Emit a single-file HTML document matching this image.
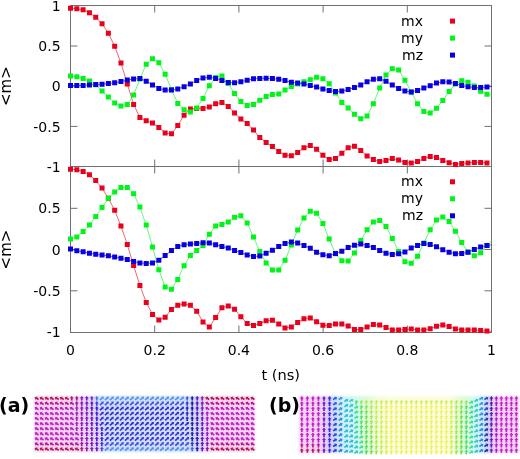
<!DOCTYPE html>
<html><head><meta charset="utf-8"><style>
html,body{margin:0;padding:0;background:#fff;}
body{width:520px;height:459px;overflow:hidden;}
svg{display:block;}
text{font-family:'DejaVu Sans', 'Liberation Sans', sans-serif;font-size:14px;fill:#000;}
</style></head><body>
<svg width="520" height="459" viewBox="0 0 520 459">
<defs><filter id="bl" x="-5%" y="-20%" width="110%" height="140%"><feGaussianBlur stdDeviation="0.45"/></filter><filter id="bl2" x="-5%" y="-20%" width="110%" height="140%"><feGaussianBlur stdDeviation="1.2"/></filter></defs>
<rect x="70.5" y="5.5" width="421" height="161.0" fill="none" stroke="#707070" stroke-width="1"/>
<line x1="70.5" y1="46.0" x2="77.5" y2="46.0" stroke="#707070"/>
<line x1="491.5" y1="46.0" x2="484.5" y2="46.0" stroke="#707070"/>
<line x1="70.5" y1="86.1" x2="77.5" y2="86.1" stroke="#707070"/>
<line x1="491.5" y1="86.1" x2="484.5" y2="86.1" stroke="#707070"/>
<line x1="70.5" y1="126.4" x2="77.5" y2="126.4" stroke="#707070"/>
<line x1="491.5" y1="126.4" x2="484.5" y2="126.4" stroke="#707070"/>
<line x1="154.7" y1="5.5" x2="154.7" y2="12.5" stroke="#707070"/>
<line x1="154.7" y1="166.5" x2="154.7" y2="159.5" stroke="#707070"/>
<line x1="238.9" y1="5.5" x2="238.9" y2="12.5" stroke="#707070"/>
<line x1="238.9" y1="166.5" x2="238.9" y2="159.5" stroke="#707070"/>
<line x1="323.1" y1="5.5" x2="323.1" y2="12.5" stroke="#707070"/>
<line x1="323.1" y1="166.5" x2="323.1" y2="159.5" stroke="#707070"/>
<line x1="407.3" y1="5.5" x2="407.3" y2="12.5" stroke="#707070"/>
<line x1="407.3" y1="166.5" x2="407.3" y2="159.5" stroke="#707070"/>
<rect x="70.5" y="166.5" width="421" height="166.0" fill="none" stroke="#707070" stroke-width="1"/>
<line x1="70.5" y1="208.3" x2="77.5" y2="208.3" stroke="#707070"/>
<line x1="491.5" y1="208.3" x2="484.5" y2="208.3" stroke="#707070"/>
<line x1="70.5" y1="249.5" x2="77.5" y2="249.5" stroke="#707070"/>
<line x1="491.5" y1="249.5" x2="484.5" y2="249.5" stroke="#707070"/>
<line x1="70.5" y1="290.8" x2="77.5" y2="290.8" stroke="#707070"/>
<line x1="491.5" y1="290.8" x2="484.5" y2="290.8" stroke="#707070"/>
<line x1="154.7" y1="166.5" x2="154.7" y2="173.5" stroke="#707070"/>
<line x1="154.7" y1="332.5" x2="154.7" y2="325.5" stroke="#707070"/>
<line x1="238.9" y1="166.5" x2="238.9" y2="173.5" stroke="#707070"/>
<line x1="238.9" y1="332.5" x2="238.9" y2="325.5" stroke="#707070"/>
<line x1="323.1" y1="166.5" x2="323.1" y2="173.5" stroke="#707070"/>
<line x1="323.1" y1="332.5" x2="323.1" y2="325.5" stroke="#707070"/>
<line x1="407.3" y1="166.5" x2="407.3" y2="173.5" stroke="#707070"/>
<line x1="407.3" y1="332.5" x2="407.3" y2="325.5" stroke="#707070"/>
<defs><clipPath id="ct"><rect x="70" y="5" width="422" height="162"/></clipPath><clipPath id="cb"><rect x="70" y="166" width="422" height="167"/></clipPath></defs>
<polyline points="70.50,8.2 76.81,8.8 83.12,9.8 89.43,12.7 95.74,17.3 102.05,23.7 108.36,33.3 114.67,46.3 120.98,62.9 127.29,83.9 133.60,104.4 139.91,117.6 146.22,120.7 152.53,123.1 158.84,127.6 165.15,132.9 171.46,133.8 177.77,125.6 184.08,115.2 190.39,108.9 196.70,108.4 203.01,108.4 209.32,107.0 215.63,103.8 221.94,102.5 228.25,106.4 234.56,112.9 240.87,119.1 247.18,123.6 253.49,130.0 259.80,137.5 266.11,142.5 272.42,146.5 278.73,151.4 285.04,155.3 291.35,155.7 297.66,152.4 303.97,147.8 310.28,145.5 316.59,149.2 322.90,155.3 329.21,159.6 335.52,158.6 341.83,153.3 348.14,147.8 354.45,146.3 360.76,150.4 367.07,156.1 373.38,159.6 379.69,161.6 386.00,160.6 392.31,158.6 398.62,160.0 404.93,162.5 411.24,162.9 417.55,161.6 423.86,158.6 430.17,156.5 436.48,157.6 442.79,160.4 449.10,162.7 455.41,164.5 461.72,163.5 468.03,162.9 474.34,162.4 480.65,162.4 486.96,162.9" fill="none" stroke="#e8001c" stroke-width="1" stroke-opacity="0.6" clip-path="url(#ct)"/>
<polyline points="70.50,76.0 76.81,76.8 83.12,78.4 89.43,81.0 95.74,84.8 102.05,91.1 108.36,97.0 114.67,102.9 120.98,106.0 127.29,104.4 133.60,95.0 139.91,79.0 146.22,64.3 152.53,58.8 158.84,62.7 165.15,74.3 171.46,89.5 177.77,103.5 184.08,109.7 190.39,111.9 196.70,108.0 203.01,98.5 209.32,85.7 215.63,77.6 221.94,76.0 228.25,83.5 234.56,93.6 240.87,101.5 247.18,105.4 253.49,104.5 259.80,100.2 266.11,96.5 272.42,94.5 278.73,93.9 285.04,90.0 291.35,86.5 297.66,84.1 303.97,81.8 310.28,79.8 316.59,77.3 322.90,78.8 329.21,83.7 335.52,92.9 341.83,102.4 348.14,107.9 354.45,114.3 360.76,118.8 367.07,116.1 373.38,103.7 379.69,88.0 386.00,74.9 392.31,68.8 398.62,70.0 404.93,80.2 411.24,92.0 417.55,103.7 423.86,111.6 430.17,112.9 436.48,108.2 442.79,100.6 449.10,91.4 455.41,84.0 461.72,80.8 468.03,82.2 474.34,86.1 480.65,91.2 486.96,94.3 493.27,95.5" fill="none" stroke="#00f41a" stroke-width="1" stroke-opacity="0.6" clip-path="url(#ct)"/>
<polyline points="70.50,85.6 76.81,85.6 83.12,85.4 89.43,85.0 95.74,84.6 102.05,84.2 108.36,83.5 114.67,82.8 120.98,81.6 127.29,80.0 133.60,79.0 139.91,78.5 146.22,81.2 152.53,84.9 158.84,88.5 165.15,90.0 171.46,90.0 177.77,88.9 184.08,86.7 190.39,83.9 196.70,80.5 203.01,78.1 209.32,77.2 215.63,78.4 221.94,80.4 228.25,82.5 234.56,82.7 240.87,81.8 247.18,80.3 253.49,78.8 259.80,78.4 266.11,78.2 272.42,78.6 278.73,79.2 285.04,80.6 291.35,82.2 297.66,83.1 303.97,84.1 310.28,85.5 316.59,87.1 322.90,89.0 329.21,90.6 335.52,91.6 341.83,91.0 348.14,89.5 354.45,87.5 360.76,85.1 367.07,81.8 373.38,79.2 379.69,78.8 386.00,81.2 392.31,85.1 398.62,88.6 404.93,91.0 411.24,92.0 417.55,90.4 423.86,88.0 430.17,85.7 436.48,83.1 442.79,81.8 449.10,82.0 455.41,83.5 461.72,85.5 468.03,86.7 474.34,87.6 480.65,87.6 486.96,87.1 493.27,86.2" fill="none" stroke="#0800e0" stroke-width="1" stroke-opacity="0.6" clip-path="url(#ct)"/>
<polyline points="70.50,169.3 76.81,169.8 83.12,171.4 89.43,174.7 95.74,180.6 102.05,188.1 108.36,198.3 114.67,210.2 120.98,226.1 127.29,244.4 133.60,265.5 139.91,285.5 146.22,302.4 152.53,314.5 158.84,320.0 165.15,317.3 171.46,309.4 177.77,305.3 184.08,303.9 190.39,305.3 196.70,311.2 203.01,322.0 209.32,327.1 215.63,317.6 221.94,307.8 228.25,305.9 234.56,309.2 240.87,316.7 247.18,323.5 253.49,325.5 259.80,323.5 266.11,320.7 272.42,320.3 278.73,324.0 285.04,327.9 291.35,327.0 297.66,322.6 303.97,318.7 310.28,318.1 316.59,321.7 322.90,325.2 329.21,325.6 335.52,324.0 341.83,324.0 348.14,326.0 354.45,329.5 360.76,329.5 367.07,327.0 373.38,324.6 379.69,325.0 386.00,327.5 392.31,329.9 398.62,330.1 404.93,329.5 411.24,329.1 417.55,329.9 423.86,330.1 430.17,328.7 436.48,326.2 442.79,325.0 449.10,326.6 455.41,328.9 461.72,329.9 468.03,329.9 474.34,329.9 480.65,330.5 486.96,331.1 493.27,331.5" fill="none" stroke="#e8001c" stroke-width="1" stroke-opacity="0.6" clip-path="url(#cb)"/>
<polyline points="70.50,238.9 76.81,236.9 83.12,231.6 89.43,225.1 95.74,216.5 102.05,207.5 108.36,198.3 114.67,192.0 120.98,187.5 127.29,187.5 133.60,193.8 139.91,207.1 146.22,225.1 152.53,246.9 158.84,269.7 165.15,286.9 171.46,289.2 177.77,279.4 184.08,265.7 190.39,255.5 196.70,250.4 203.01,245.5 209.32,234.3 215.63,226.1 221.94,224.5 228.25,222.0 234.56,217.3 240.87,215.7 247.18,223.1 253.49,237.0 259.80,251.5 266.11,263.0 272.42,269.9 278.73,269.9 285.04,260.3 291.35,245.0 297.66,229.9 303.97,218.1 310.28,211.3 316.59,213.2 322.90,223.4 329.21,239.1 335.52,253.8 341.83,260.7 348.14,261.1 354.45,253.0 360.76,240.5 367.07,229.7 373.38,221.9 379.69,220.5 386.00,226.4 392.31,238.5 398.62,251.5 404.93,261.7 411.24,263.2 417.55,256.2 423.86,243.0 430.17,229.7 436.48,220.0 442.79,217.1 449.10,221.5 455.41,231.3 461.72,242.6 468.03,252.0 474.34,255.8 480.65,252.8 486.96,245.6 493.27,239.0" fill="none" stroke="#00f41a" stroke-width="1" stroke-opacity="0.6" clip-path="url(#cb)"/>
<polyline points="70.50,249.0 76.81,250.7 83.12,251.8 89.43,253.3 95.74,254.3 102.05,255.1 108.36,255.7 114.67,257.1 120.98,258.2 127.29,259.6 133.60,261.6 139.91,262.9 146.22,263.5 152.53,262.9 158.84,260.2 165.15,255.6 171.46,250.6 177.77,246.5 184.08,244.7 190.39,244.1 196.70,243.5 203.01,242.7 209.32,243.1 215.63,244.7 221.94,246.5 228.25,248.0 234.56,250.4 240.87,252.5 247.18,254.9 253.49,256.5 259.80,256.0 266.11,253.2 272.42,250.3 278.73,246.6 285.04,243.4 291.35,242.1 297.66,243.0 303.97,245.4 310.28,248.3 316.59,252.3 322.90,254.8 329.21,255.8 335.52,253.4 341.83,251.3 348.14,247.5 354.45,245.2 360.76,244.0 367.07,245.4 373.38,247.5 379.69,250.5 386.00,253.2 392.31,254.4 398.62,253.8 404.93,251.9 411.24,247.9 417.55,245.4 423.86,243.5 430.17,244.4 436.48,246.8 442.79,249.7 449.10,252.2 455.41,253.8 461.72,253.4 468.03,252.3 474.34,249.5 480.65,247.0 486.96,245.6 493.27,244.5" fill="none" stroke="#0800e0" stroke-width="1" stroke-opacity="0.6" clip-path="url(#cb)"/>
<path d="M68.00 5.7h5v5h-5zM74.31 6.3h5v5h-5zM80.62 7.3h5v5h-5zM86.93 10.2h5v5h-5zM93.24 14.8h5v5h-5zM99.55 21.2h5v5h-5zM105.86 30.8h5v5h-5zM112.17 43.8h5v5h-5zM118.48 60.4h5v5h-5zM124.79 81.4h5v5h-5zM131.10 101.9h5v5h-5zM137.41 115.1h5v5h-5zM143.72 118.2h5v5h-5zM150.03 120.6h5v5h-5zM156.34 125.1h5v5h-5zM162.65 130.4h5v5h-5zM168.96 131.3h5v5h-5zM175.27 123.1h5v5h-5zM181.58 112.7h5v5h-5zM187.89 106.4h5v5h-5zM194.20 105.9h5v5h-5zM200.51 105.9h5v5h-5zM206.82 104.5h5v5h-5zM213.13 101.3h5v5h-5zM219.44 100.0h5v5h-5zM225.75 103.9h5v5h-5zM232.06 110.4h5v5h-5zM238.37 116.6h5v5h-5zM244.68 121.1h5v5h-5zM250.99 127.5h5v5h-5zM257.30 135.0h5v5h-5zM263.61 140.0h5v5h-5zM269.92 144.0h5v5h-5zM276.23 148.9h5v5h-5zM282.54 152.8h5v5h-5zM288.85 153.2h5v5h-5zM295.16 149.9h5v5h-5zM301.47 145.3h5v5h-5zM307.78 143.0h5v5h-5zM314.09 146.7h5v5h-5zM320.40 152.8h5v5h-5zM326.71 157.1h5v5h-5zM333.02 156.1h5v5h-5zM339.33 150.8h5v5h-5zM345.64 145.3h5v5h-5zM351.95 143.8h5v5h-5zM358.26 147.9h5v5h-5zM364.57 153.6h5v5h-5zM370.88 157.1h5v5h-5zM377.19 159.1h5v5h-5zM383.50 158.1h5v5h-5zM389.81 156.1h5v5h-5zM396.12 157.5h5v5h-5zM402.43 160.0h5v5h-5zM408.74 160.4h5v5h-5zM415.05 159.1h5v5h-5zM421.36 156.1h5v5h-5zM427.67 154.0h5v5h-5zM433.98 155.1h5v5h-5zM440.29 157.9h5v5h-5zM446.60 160.2h5v5h-5zM452.91 162.0h5v5h-5zM459.22 161.0h5v5h-5zM465.53 160.4h5v5h-5zM471.84 159.9h5v5h-5zM478.15 159.9h5v5h-5zM484.46 160.4h5v5h-5z" fill="#e8001c"/>
<path d="M68.00 73.5h5v5h-5zM74.31 74.3h5v5h-5zM80.62 75.9h5v5h-5zM86.93 78.5h5v5h-5zM93.24 82.3h5v5h-5zM99.55 88.6h5v5h-5zM105.86 94.5h5v5h-5zM112.17 100.4h5v5h-5zM118.48 103.5h5v5h-5zM124.79 101.9h5v5h-5zM131.10 92.5h5v5h-5zM137.41 76.5h5v5h-5zM143.72 61.8h5v5h-5zM150.03 56.3h5v5h-5zM156.34 60.2h5v5h-5zM162.65 71.8h5v5h-5zM168.96 87.0h5v5h-5zM175.27 101.0h5v5h-5zM181.58 107.2h5v5h-5zM187.89 109.4h5v5h-5zM194.20 105.5h5v5h-5zM200.51 96.0h5v5h-5zM206.82 83.2h5v5h-5zM213.13 75.1h5v5h-5zM219.44 73.5h5v5h-5zM225.75 81.0h5v5h-5zM232.06 91.1h5v5h-5zM238.37 99.0h5v5h-5zM244.68 102.9h5v5h-5zM250.99 102.0h5v5h-5zM257.30 97.7h5v5h-5zM263.61 94.0h5v5h-5zM269.92 92.0h5v5h-5zM276.23 91.4h5v5h-5zM282.54 87.5h5v5h-5zM288.85 84.0h5v5h-5zM295.16 81.6h5v5h-5zM301.47 79.3h5v5h-5zM307.78 77.3h5v5h-5zM314.09 74.8h5v5h-5zM320.40 76.3h5v5h-5zM326.71 81.2h5v5h-5zM333.02 90.4h5v5h-5zM339.33 99.9h5v5h-5zM345.64 105.4h5v5h-5zM351.95 111.8h5v5h-5zM358.26 116.3h5v5h-5zM364.57 113.6h5v5h-5zM370.88 101.2h5v5h-5zM377.19 85.5h5v5h-5zM383.50 72.4h5v5h-5zM389.81 66.3h5v5h-5zM396.12 67.5h5v5h-5zM402.43 77.7h5v5h-5zM408.74 89.5h5v5h-5zM415.05 101.2h5v5h-5zM421.36 109.1h5v5h-5zM427.67 110.4h5v5h-5zM433.98 105.7h5v5h-5zM440.29 98.1h5v5h-5zM446.60 88.9h5v5h-5zM452.91 81.5h5v5h-5zM459.22 78.3h5v5h-5zM465.53 79.7h5v5h-5zM471.84 83.6h5v5h-5zM478.15 88.7h5v5h-5zM484.46 91.8h5v5h-5z" fill="#00f41a"/>
<path d="M68.00 83.1h5v5h-5zM74.31 83.1h5v5h-5zM80.62 82.9h5v5h-5zM86.93 82.5h5v5h-5zM93.24 82.1h5v5h-5zM99.55 81.7h5v5h-5zM105.86 81.0h5v5h-5zM112.17 80.3h5v5h-5zM118.48 79.1h5v5h-5zM124.79 77.5h5v5h-5zM131.10 76.5h5v5h-5zM137.41 76.0h5v5h-5zM143.72 78.7h5v5h-5zM150.03 82.4h5v5h-5zM156.34 86.0h5v5h-5zM162.65 87.5h5v5h-5zM168.96 87.5h5v5h-5zM175.27 86.4h5v5h-5zM181.58 84.2h5v5h-5zM187.89 81.4h5v5h-5zM194.20 78.0h5v5h-5zM200.51 75.6h5v5h-5zM206.82 74.7h5v5h-5zM213.13 75.9h5v5h-5zM219.44 77.9h5v5h-5zM225.75 80.0h5v5h-5zM232.06 80.2h5v5h-5zM238.37 79.3h5v5h-5zM244.68 77.8h5v5h-5zM250.99 76.3h5v5h-5zM257.30 75.9h5v5h-5zM263.61 75.7h5v5h-5zM269.92 76.1h5v5h-5zM276.23 76.7h5v5h-5zM282.54 78.1h5v5h-5zM288.85 79.7h5v5h-5zM295.16 80.6h5v5h-5zM301.47 81.6h5v5h-5zM307.78 83.0h5v5h-5zM314.09 84.6h5v5h-5zM320.40 86.5h5v5h-5zM326.71 88.1h5v5h-5zM333.02 89.1h5v5h-5zM339.33 88.5h5v5h-5zM345.64 87.0h5v5h-5zM351.95 85.0h5v5h-5zM358.26 82.6h5v5h-5zM364.57 79.3h5v5h-5zM370.88 76.7h5v5h-5zM377.19 76.3h5v5h-5zM383.50 78.7h5v5h-5zM389.81 82.6h5v5h-5zM396.12 86.1h5v5h-5zM402.43 88.5h5v5h-5zM408.74 89.5h5v5h-5zM415.05 87.9h5v5h-5zM421.36 85.5h5v5h-5zM427.67 83.2h5v5h-5zM433.98 80.6h5v5h-5zM440.29 79.3h5v5h-5zM446.60 79.5h5v5h-5zM452.91 81.0h5v5h-5zM459.22 83.0h5v5h-5zM465.53 84.2h5v5h-5zM471.84 85.1h5v5h-5zM478.15 85.1h5v5h-5zM484.46 84.6h5v5h-5z" fill="#0800e0"/>
<path d="M68.00 166.8h5v5h-5zM74.31 167.3h5v5h-5zM80.62 168.9h5v5h-5zM86.93 172.2h5v5h-5zM93.24 178.1h5v5h-5zM99.55 185.6h5v5h-5zM105.86 195.8h5v5h-5zM112.17 207.7h5v5h-5zM118.48 223.6h5v5h-5zM124.79 241.9h5v5h-5zM131.10 263.0h5v5h-5zM137.41 283.0h5v5h-5zM143.72 299.9h5v5h-5zM150.03 312.0h5v5h-5zM156.34 317.5h5v5h-5zM162.65 314.8h5v5h-5zM168.96 306.9h5v5h-5zM175.27 302.8h5v5h-5zM181.58 301.4h5v5h-5zM187.89 302.8h5v5h-5zM194.20 308.7h5v5h-5zM200.51 319.5h5v5h-5zM206.82 324.6h5v5h-5zM213.13 315.1h5v5h-5zM219.44 305.3h5v5h-5zM225.75 303.4h5v5h-5zM232.06 306.7h5v5h-5zM238.37 314.2h5v5h-5zM244.68 321.0h5v5h-5zM250.99 323.0h5v5h-5zM257.30 321.0h5v5h-5zM263.61 318.2h5v5h-5zM269.92 317.8h5v5h-5zM276.23 321.5h5v5h-5zM282.54 325.4h5v5h-5zM288.85 324.5h5v5h-5zM295.16 320.1h5v5h-5zM301.47 316.2h5v5h-5zM307.78 315.6h5v5h-5zM314.09 319.2h5v5h-5zM320.40 322.7h5v5h-5zM326.71 323.1h5v5h-5zM333.02 321.5h5v5h-5zM339.33 321.5h5v5h-5zM345.64 323.5h5v5h-5zM351.95 327.0h5v5h-5zM358.26 327.0h5v5h-5zM364.57 324.5h5v5h-5zM370.88 322.1h5v5h-5zM377.19 322.5h5v5h-5zM383.50 325.0h5v5h-5zM389.81 327.4h5v5h-5zM396.12 327.6h5v5h-5zM402.43 327.0h5v5h-5zM408.74 326.6h5v5h-5zM415.05 327.4h5v5h-5zM421.36 327.6h5v5h-5zM427.67 326.2h5v5h-5zM433.98 323.7h5v5h-5zM440.29 322.5h5v5h-5zM446.60 324.1h5v5h-5zM452.91 326.4h5v5h-5zM459.22 327.4h5v5h-5zM465.53 327.4h5v5h-5zM471.84 327.4h5v5h-5zM478.15 328.0h5v5h-5zM484.46 328.6h5v5h-5z" fill="#e8001c"/>
<path d="M68.00 236.4h5v5h-5zM74.31 234.4h5v5h-5zM80.62 229.1h5v5h-5zM86.93 222.6h5v5h-5zM93.24 214.0h5v5h-5zM99.55 205.0h5v5h-5zM105.86 195.8h5v5h-5zM112.17 189.5h5v5h-5zM118.48 185.0h5v5h-5zM124.79 185.0h5v5h-5zM131.10 191.3h5v5h-5zM137.41 204.6h5v5h-5zM143.72 222.6h5v5h-5zM150.03 244.4h5v5h-5zM156.34 267.2h5v5h-5zM162.65 284.4h5v5h-5zM168.96 286.7h5v5h-5zM175.27 276.9h5v5h-5zM181.58 263.2h5v5h-5zM187.89 253.0h5v5h-5zM194.20 247.9h5v5h-5zM200.51 243.0h5v5h-5zM206.82 231.8h5v5h-5zM213.13 223.6h5v5h-5zM219.44 222.0h5v5h-5zM225.75 219.5h5v5h-5zM232.06 214.8h5v5h-5zM238.37 213.2h5v5h-5zM244.68 220.6h5v5h-5zM250.99 234.5h5v5h-5zM257.30 249.0h5v5h-5zM263.61 260.5h5v5h-5zM269.92 267.4h5v5h-5zM276.23 267.4h5v5h-5zM282.54 257.8h5v5h-5zM288.85 242.5h5v5h-5zM295.16 227.4h5v5h-5zM301.47 215.6h5v5h-5zM307.78 208.8h5v5h-5zM314.09 210.7h5v5h-5zM320.40 220.9h5v5h-5zM326.71 236.6h5v5h-5zM333.02 251.3h5v5h-5zM339.33 258.2h5v5h-5zM345.64 258.6h5v5h-5zM351.95 250.5h5v5h-5zM358.26 238.0h5v5h-5zM364.57 227.2h5v5h-5zM370.88 219.4h5v5h-5zM377.19 218.0h5v5h-5zM383.50 223.9h5v5h-5zM389.81 236.0h5v5h-5zM396.12 249.0h5v5h-5zM402.43 259.2h5v5h-5zM408.74 260.7h5v5h-5zM415.05 253.7h5v5h-5zM421.36 240.5h5v5h-5zM427.67 227.2h5v5h-5zM433.98 217.5h5v5h-5zM440.29 214.6h5v5h-5zM446.60 219.0h5v5h-5zM452.91 228.8h5v5h-5zM459.22 240.1h5v5h-5zM465.53 249.5h5v5h-5zM471.84 253.3h5v5h-5zM478.15 250.3h5v5h-5zM484.46 243.1h5v5h-5z" fill="#00f41a"/>
<path d="M68.00 246.5h5v5h-5zM74.31 248.2h5v5h-5zM80.62 249.3h5v5h-5zM86.93 250.8h5v5h-5zM93.24 251.8h5v5h-5zM99.55 252.6h5v5h-5zM105.86 253.2h5v5h-5zM112.17 254.6h5v5h-5zM118.48 255.7h5v5h-5zM124.79 257.1h5v5h-5zM131.10 259.1h5v5h-5zM137.41 260.4h5v5h-5zM143.72 261.0h5v5h-5zM150.03 260.4h5v5h-5zM156.34 257.7h5v5h-5zM162.65 253.1h5v5h-5zM168.96 248.1h5v5h-5zM175.27 244.0h5v5h-5zM181.58 242.2h5v5h-5zM187.89 241.6h5v5h-5zM194.20 241.0h5v5h-5zM200.51 240.2h5v5h-5zM206.82 240.6h5v5h-5zM213.13 242.2h5v5h-5zM219.44 244.0h5v5h-5zM225.75 245.5h5v5h-5zM232.06 247.9h5v5h-5zM238.37 250.0h5v5h-5zM244.68 252.4h5v5h-5zM250.99 254.0h5v5h-5zM257.30 253.5h5v5h-5zM263.61 250.7h5v5h-5zM269.92 247.8h5v5h-5zM276.23 244.1h5v5h-5zM282.54 240.9h5v5h-5zM288.85 239.6h5v5h-5zM295.16 240.5h5v5h-5zM301.47 242.9h5v5h-5zM307.78 245.8h5v5h-5zM314.09 249.8h5v5h-5zM320.40 252.3h5v5h-5zM326.71 253.3h5v5h-5zM333.02 250.9h5v5h-5zM339.33 248.8h5v5h-5zM345.64 245.0h5v5h-5zM351.95 242.7h5v5h-5zM358.26 241.5h5v5h-5zM364.57 242.9h5v5h-5zM370.88 245.0h5v5h-5zM377.19 248.0h5v5h-5zM383.50 250.7h5v5h-5zM389.81 251.9h5v5h-5zM396.12 251.3h5v5h-5zM402.43 249.4h5v5h-5zM408.74 245.4h5v5h-5zM415.05 242.9h5v5h-5zM421.36 241.0h5v5h-5zM427.67 241.9h5v5h-5zM433.98 244.3h5v5h-5zM440.29 247.2h5v5h-5zM446.60 249.7h5v5h-5zM452.91 251.3h5v5h-5zM459.22 250.9h5v5h-5zM465.53 249.8h5v5h-5zM471.84 247.0h5v5h-5zM478.15 244.5h5v5h-5zM484.46 243.1h5v5h-5z" fill="#0800e0"/>
<text x="423" y="25.7" text-anchor="end">mx</text>
<rect x="450.0" y="18.6" width="5" height="5" fill="#e8001c"/>
<text x="423" y="42.7" text-anchor="end">my</text>
<rect x="450.0" y="35.6" width="5" height="5" fill="#00f41a"/>
<text x="423" y="59.7" text-anchor="end">mz</text>
<rect x="450.0" y="52.6" width="5" height="5" fill="#0800e0"/>
<text x="423" y="186.4" text-anchor="end">mx</text>
<rect x="450.0" y="179.3" width="5" height="5" fill="#e8001c"/>
<text x="423" y="203.4" text-anchor="end">my</text>
<rect x="450.0" y="196.3" width="5" height="5" fill="#00f41a"/>
<text x="423" y="220.4" text-anchor="end">mz</text>
<rect x="450.0" y="213.3" width="5" height="5" fill="#0800e0"/>
<text x="60.6" y="11.0" text-anchor="end">1</text>
<text x="60.6" y="51.1" text-anchor="end">0.5</text>
<text x="60.6" y="91.2" text-anchor="end">0</text>
<text x="60.6" y="131.5" text-anchor="end">-0.5</text>
<text x="60.6" y="171.6" text-anchor="end">-1</text>
<text x="60.6" y="213.4" text-anchor="end">0.5</text>
<text x="60.6" y="254.6" text-anchor="end">0</text>
<text x="60.6" y="295.9" text-anchor="end">-0.5</text>
<text x="60.6" y="337.0" text-anchor="end">-1</text>
<text x="70.5" y="354.8" text-anchor="middle">0</text>
<text x="154.7" y="354.8" text-anchor="middle">0.2</text>
<text x="238.9" y="354.8" text-anchor="middle">0.4</text>
<text x="323.1" y="354.8" text-anchor="middle">0.6</text>
<text x="407.3" y="354.8" text-anchor="middle">0.8</text>
<text x="491.5" y="354.8" text-anchor="middle">1</text>
<text x="280.7" y="379.8" text-anchor="middle" style="font-size:14.6px">t (ns)</text>
<text transform="translate(10.6,86.1) rotate(-90)" text-anchor="middle" style="font-size:15px">&lt;m&gt;</text>
<text transform="translate(10.6,249.5) rotate(-90)" text-anchor="middle" style="font-size:15px">&lt;m&gt;</text>
<text x="-1" y="412" style="font-weight:bold;font-size:19px">(a)</text>
<text x="269" y="412" style="font-weight:bold;font-size:19px">(b)</text>
<defs><linearGradient id="ga" gradientUnits="userSpaceOnUse" x1="34" y1="0" x2="256" y2="0"><stop offset="0.000" stop-color="#be1ebe"/><stop offset="0.144" stop-color="#be1ebe"/><stop offset="0.189" stop-color="#9818ba"/><stop offset="0.234" stop-color="#8218c4"/><stop offset="0.270" stop-color="#541ad0"/><stop offset="0.311" stop-color="#2234d8"/><stop offset="0.703" stop-color="#2234d8"/><stop offset="0.734" stop-color="#1a1aa0"/><stop offset="0.761" stop-color="#541ad0"/><stop offset="0.784" stop-color="#8218c4"/><stop offset="0.806" stop-color="#be1ebe"/><stop offset="1.000" stop-color="#be1ebe"/></linearGradient><linearGradient id="gb" gradientUnits="userSpaceOnUse" x1="299" y1="0" x2="519" y2="0"><stop offset="0.000" stop-color="#c420ca"/><stop offset="0.086" stop-color="#c420ca"/><stop offset="0.109" stop-color="#881acc"/><stop offset="0.132" stop-color="#5422d6"/><stop offset="0.154" stop-color="#202cd6"/><stop offset="0.180" stop-color="#2278e2"/><stop offset="0.211" stop-color="#28bed8"/><stop offset="0.241" stop-color="#28bed8"/><stop offset="0.264" stop-color="#32deaa"/><stop offset="0.286" stop-color="#4ce264"/><stop offset="0.314" stop-color="#6ee44c"/><stop offset="0.350" stop-color="#beec50"/><stop offset="0.414" stop-color="#eef25c"/><stop offset="0.677" stop-color="#eef25c"/><stop offset="0.706" stop-color="#beec50"/><stop offset="0.738" stop-color="#6ee44c"/><stop offset="0.765" stop-color="#4ce264"/><stop offset="0.792" stop-color="#32deaa"/><stop offset="0.815" stop-color="#28bed8"/><stop offset="0.838" stop-color="#2278e2"/><stop offset="0.860" stop-color="#1a1aa0"/><stop offset="0.883" stop-color="#881acc"/><stop offset="0.906" stop-color="#c420ca"/><stop offset="1.000" stop-color="#c420ca"/></linearGradient></defs>
<rect x="34" y="396" width="221" height="56" fill="url(#ga)" opacity="0.18" filter="url(#bl2)"/>
<rect x="299" y="396" width="220" height="57" fill="url(#gb)" opacity="0.2" filter="url(#bl2)"/>
<g filter="url(#bl)"><path fill="#b8144e" d="M39.0 398.7L37.0 397.6L37.6 396.6L34.6 397.2L35.6 400.0L36.2 399.0L38.2 400.2ZM44.0 398.7L42.0 397.6L42.6 396.6L39.6 397.2L40.6 400.0L41.2 399.0L43.2 400.2ZM49.1 398.7L47.1 397.6L47.6 396.6L44.6 397.2L45.6 400.0L46.2 399.0L48.2 400.2ZM54.1 398.7L52.1 397.6L52.7 396.6L49.7 397.2L50.7 400.0L51.2 399.0L53.2 400.2ZM59.1 398.7L57.1 397.6L57.7 396.6L54.7 397.2L55.7 400.0L56.3 399.0L58.2 400.2ZM64.1 398.7L62.1 397.6L62.7 396.6L59.7 397.2L60.7 400.0L61.3 399.0L63.3 400.2ZM69.1 398.7L67.1 397.6L67.7 396.6L64.7 397.2L65.7 400.0L66.3 399.0L68.3 400.2ZM209.7 398.7L207.7 397.6L208.3 396.6L205.3 397.2L206.3 400.0L206.9 399.0L208.8 400.2ZM214.7 398.7L212.7 397.6L213.3 396.6L210.3 397.2L211.3 400.0L211.9 399.0L213.9 400.2ZM219.7 398.7L217.7 397.6L218.3 396.6L215.3 397.2L216.3 400.0L216.9 399.0L218.9 400.2ZM224.8 398.7L222.8 397.6L223.3 396.6L220.3 397.2L221.3 400.0L221.9 399.0L223.9 400.2ZM229.8 398.7L227.8 397.6L228.4 396.6L225.4 397.2L226.4 400.0L226.9 399.0L228.9 400.2ZM234.8 398.7L232.8 397.6L233.4 396.6L230.4 397.2L231.4 400.0L232.0 399.0L233.9 400.2ZM239.8 398.7L237.8 397.6L238.4 396.6L235.4 397.2L236.4 400.0L237.0 399.0L239.0 400.2ZM244.8 398.7L242.8 397.6L243.4 396.6L240.4 397.2L241.4 400.0L242.0 399.0L244.0 400.2ZM249.9 398.7L247.9 397.6L248.4 396.6L245.4 397.2L246.4 400.0L247.0 399.0L249.0 400.2ZM254.9 398.7L252.9 397.6L253.5 396.6L250.5 397.2L251.5 400.0L252.0 399.0L254.0 400.2ZM39.0 449.4L37.0 448.3L37.6 447.3L34.6 447.9L35.6 450.7L36.2 449.7L38.2 450.9ZM44.0 449.4L42.0 448.3L42.6 447.3L39.6 447.9L40.6 450.7L41.2 449.7L43.2 450.9ZM49.1 449.4L47.1 448.3L47.6 447.3L44.6 447.9L45.6 450.7L46.2 449.7L48.2 450.9ZM54.1 449.4L52.1 448.3L52.7 447.3L49.7 447.9L50.7 450.7L51.2 449.7L53.2 450.9ZM59.1 449.4L57.1 448.3L57.7 447.3L54.7 447.9L55.7 450.7L56.3 449.7L58.2 450.9ZM64.1 449.4L62.1 448.3L62.7 447.3L59.7 447.9L60.7 450.7L61.3 449.7L63.3 450.9ZM69.1 449.4L67.1 448.3L67.7 447.3L64.7 447.9L65.7 450.7L66.3 449.7L68.3 450.9ZM74.2 449.4L72.2 448.3L72.7 447.3L69.7 447.9L70.7 450.7L71.3 449.7L73.3 450.9ZM79.2 449.4L77.2 448.3L77.8 447.3L74.8 447.9L75.8 450.7L76.3 449.7L78.3 450.9ZM214.7 449.4L212.7 448.3L213.3 447.3L210.3 447.9L211.3 450.7L211.9 449.7L213.9 450.9ZM219.7 449.4L217.7 448.3L218.3 447.3L215.3 447.9L216.3 450.7L216.9 449.7L218.9 450.9ZM224.8 449.4L222.8 448.3L223.3 447.3L220.3 447.9L221.3 450.7L221.9 449.7L223.9 450.9ZM229.8 449.4L227.8 448.3L228.4 447.3L225.4 447.9L226.4 450.7L226.9 449.7L228.9 450.9ZM234.8 449.4L232.8 448.3L233.4 447.3L230.4 447.9L231.4 450.7L232.0 449.7L233.9 450.9ZM239.8 449.4L237.8 448.3L238.4 447.3L235.4 447.9L236.4 450.7L237.0 449.7L239.0 450.9ZM244.8 449.4L242.8 448.3L243.4 447.3L240.4 447.9L241.4 450.7L242.0 449.7L244.0 450.9ZM249.9 449.4L247.9 448.3L248.4 447.3L245.4 447.9L246.4 450.7L247.0 449.7L249.0 450.9ZM254.9 449.4L252.9 448.3L253.5 447.3L250.5 447.9L251.5 450.7L252.0 449.7L254.0 450.9Z"/>
<path fill="#b61667" d="M72.6 400.6L72.6 398.3L73.7 398.3L71.7 396.0L69.7 398.3L70.9 398.3L70.9 400.6Z"/>
<path fill="#a31794" d="M77.6 400.6L77.6 398.3L78.8 398.3L76.8 396.0L74.8 398.3L75.9 398.3L75.9 400.6Z"/>
<path fill="#8b18c0" d="M82.6 400.6L82.6 398.3L83.8 398.3L81.8 396.0L79.8 398.3L80.9 398.3L80.9 400.6Z"/>
<path fill="#7619c7" d="M87.6 400.6L87.6 398.3L88.8 398.3L86.8 396.0L84.8 398.3L86.0 398.3L86.0 400.6Z"/>
<path fill="#503cd9" d="M92.7 400.6L92.7 398.3L93.8 398.3L91.8 396.0L89.8 398.3L91.0 398.3L91.0 400.6Z"/>
<path fill="#3f7deb" d="M97.7 400.6L97.7 398.3L98.8 398.3L96.8 396.0L94.8 398.3L96.0 398.3L96.0 400.6Z"/>
<path fill="#3f95f1" d="M100.5 400.6L102.8 398.6L103.4 399.2L103.8 396.6L101.1 396.7L101.7 397.4L99.4 399.4ZM105.5 400.6L107.8 398.6L108.4 399.2L108.8 396.6L106.1 396.7L106.7 397.4L104.4 399.4ZM110.5 400.6L112.8 398.6L113.4 399.2L113.8 396.6L111.1 396.7L111.7 397.4L109.4 399.4ZM115.5 400.6L117.8 398.6L118.4 399.2L118.9 396.6L116.2 396.7L116.8 397.4L114.5 399.4ZM120.5 400.6L122.8 398.6L123.4 399.2L123.9 396.6L121.2 396.7L121.8 397.4L119.5 399.4ZM125.6 400.6L127.9 398.6L128.5 399.2L128.9 396.6L126.2 396.7L126.8 397.4L124.5 399.4ZM130.6 400.6L132.9 398.6L133.5 399.2L133.9 396.6L131.2 396.7L131.8 397.4L129.5 399.4ZM135.6 400.6L137.9 398.6L138.5 399.2L138.9 396.6L136.2 396.7L136.8 397.4L134.5 399.4ZM140.6 400.6L142.9 398.6L143.5 399.2L144.0 396.6L141.3 396.7L141.9 397.4L139.6 399.4ZM145.6 400.6L147.9 398.6L148.5 399.2L149.0 396.6L146.3 396.7L146.9 397.4L144.6 399.4ZM150.7 400.6L153.0 398.6L153.6 399.2L154.0 396.6L151.3 396.7L151.9 397.4L149.6 399.4ZM155.7 400.6L158.0 398.6L158.6 399.2L159.0 396.6L156.3 396.7L156.9 397.4L154.6 399.4ZM160.7 400.6L163.0 398.6L163.6 399.2L164.0 396.6L161.3 396.7L161.9 397.4L159.6 399.4ZM165.7 400.6L168.0 398.6L168.6 399.2L169.1 396.6L166.4 396.7L167.0 397.4L164.7 399.4ZM170.7 400.6L173.0 398.6L173.6 399.2L174.1 396.6L171.4 396.7L172.0 397.4L169.7 399.4ZM175.8 400.6L178.1 398.6L178.7 399.2L179.1 396.6L176.4 396.7L177.0 397.4L174.7 399.4ZM180.8 400.6L183.1 398.6L183.7 399.2L184.1 396.6L181.4 396.7L182.0 397.4L179.7 399.4ZM110.5 451.3L112.8 449.3L113.4 449.9L113.8 447.3L111.1 447.4L111.7 448.1L109.4 450.1ZM115.5 451.3L117.8 449.3L118.4 449.9L118.9 447.3L116.2 447.4L116.8 448.1L114.5 450.1ZM120.5 451.3L122.8 449.3L123.4 449.9L123.9 447.3L121.2 447.4L121.8 448.1L119.5 450.1ZM125.6 451.3L127.9 449.3L128.5 449.9L128.9 447.3L126.2 447.4L126.8 448.1L124.5 450.1ZM130.6 451.3L132.9 449.3L133.5 449.9L133.9 447.3L131.2 447.4L131.8 448.1L129.5 450.1ZM135.6 451.3L137.9 449.3L138.5 449.9L138.9 447.3L136.2 447.4L136.8 448.1L134.5 450.1ZM140.6 451.3L142.9 449.3L143.5 449.9L144.0 447.3L141.3 447.4L141.9 448.1L139.6 450.1ZM145.6 451.3L147.9 449.3L148.5 449.9L149.0 447.3L146.3 447.4L146.9 448.1L144.6 450.1ZM150.7 451.3L153.0 449.3L153.6 449.9L154.0 447.3L151.3 447.4L151.9 448.1L149.6 450.1ZM155.7 451.3L158.0 449.3L158.6 449.9L159.0 447.3L156.3 447.4L156.9 448.1L154.6 450.1ZM160.7 451.3L163.0 449.3L163.6 449.9L164.0 447.3L161.3 447.4L161.9 448.1L159.6 450.1ZM165.7 451.3L168.0 449.3L168.6 449.9L169.1 447.3L166.4 447.4L167.0 448.1L164.7 450.1ZM170.7 451.3L173.0 449.3L173.6 449.9L174.1 447.3L171.4 447.4L172.0 448.1L169.7 450.1ZM175.8 451.3L178.1 449.3L178.7 449.9L179.1 447.3L176.4 447.4L177.0 448.1L174.7 450.1ZM180.8 451.3L183.1 449.3L183.7 449.9L184.1 447.3L181.4 447.4L182.0 448.1L179.7 450.1ZM185.8 451.3L188.1 449.3L188.7 449.9L189.1 447.3L186.4 447.4L187.0 448.1L184.7 450.1Z"/>
<path fill="#336cdd" d="M188.0 400.6L188.0 398.3L189.2 398.3L187.2 396.0L185.2 398.3L186.3 398.3L186.3 400.6ZM193.1 451.3L193.1 449.0L194.2 449.0L192.2 446.7L190.2 449.0L191.4 449.0L191.4 451.3Z"/>
<path fill="#261aaa" d="M193.1 400.6L193.1 398.3L194.2 398.3L192.2 396.0L190.2 398.3L191.4 398.3L191.4 400.6ZM198.1 451.3L198.1 449.0L199.2 449.0L197.2 446.7L195.2 449.0L196.4 449.0L196.4 451.3Z"/>
<path fill="#561acf" d="M198.1 400.6L198.1 398.3L199.2 398.3L197.2 396.0L195.2 398.3L196.4 398.3L196.4 400.6ZM203.1 451.3L203.1 449.0L204.3 449.0L202.3 446.7L200.3 449.0L201.4 449.0L201.4 451.3Z"/>
<path fill="#991794" d="M203.1 400.6L203.1 398.3L204.3 398.3L202.3 396.0L200.3 398.3L201.4 398.3L201.4 400.6Z"/>
<path fill="#bb1983" d="M39.0 403.8L37.0 402.6L37.6 401.6L34.6 402.2L35.6 405.1L36.2 404.1L38.2 405.3ZM44.0 403.8L42.0 402.6L42.6 401.6L39.6 402.2L40.6 405.1L41.2 404.1L43.2 405.3ZM49.1 403.8L47.1 402.6L47.6 401.6L44.6 402.2L45.6 405.1L46.2 404.1L48.2 405.3ZM54.1 403.8L52.1 402.6L52.7 401.6L49.7 402.2L50.7 405.1L51.2 404.1L53.2 405.3ZM59.1 403.8L57.1 402.6L57.7 401.6L54.7 402.2L55.7 405.1L56.3 404.1L58.2 405.3ZM64.1 403.8L62.1 402.6L62.7 401.6L59.7 402.2L60.7 405.1L61.3 404.1L63.3 405.3ZM69.1 403.8L67.1 402.6L67.7 401.6L64.7 402.2L65.7 405.1L66.3 404.1L68.3 405.3ZM214.7 403.8L212.7 402.6L213.3 401.6L210.3 402.2L211.3 405.1L211.9 404.1L213.9 405.3ZM219.7 403.8L217.7 402.6L218.3 401.6L215.3 402.2L216.3 405.1L216.9 404.1L218.9 405.3ZM224.8 403.8L222.8 402.6L223.3 401.6L220.3 402.2L221.3 405.1L221.9 404.1L223.9 405.3ZM229.8 403.8L227.8 402.6L228.4 401.6L225.4 402.2L226.4 405.1L226.9 404.1L228.9 405.3ZM234.8 403.8L232.8 402.6L233.4 401.6L230.4 402.2L231.4 405.1L232.0 404.1L233.9 405.3ZM239.8 403.8L237.8 402.6L238.4 401.6L235.4 402.2L236.4 405.1L237.0 404.1L239.0 405.3ZM244.8 403.8L242.8 402.6L243.4 401.6L240.4 402.2L241.4 405.1L242.0 404.1L244.0 405.3ZM249.9 403.8L247.9 402.6L248.4 401.6L245.4 402.2L246.4 405.1L247.0 404.1L249.0 405.3ZM254.9 403.8L252.9 402.6L253.5 401.6L250.5 402.2L251.5 405.1L252.0 404.1L254.0 405.3ZM39.0 444.3L37.0 443.2L37.6 442.2L34.6 442.8L35.6 445.7L36.2 444.7L38.2 445.8ZM44.0 444.3L42.0 443.2L42.6 442.2L39.6 442.8L40.6 445.7L41.2 444.7L43.2 445.8ZM49.1 444.3L47.1 443.2L47.6 442.2L44.6 442.8L45.6 445.7L46.2 444.7L48.2 445.8ZM54.1 444.3L52.1 443.2L52.7 442.2L49.7 442.8L50.7 445.7L51.2 444.7L53.2 445.8ZM59.1 444.3L57.1 443.2L57.7 442.2L54.7 442.8L55.7 445.7L56.3 444.7L58.2 445.8ZM64.1 444.3L62.1 443.2L62.7 442.2L59.7 442.8L60.7 445.7L61.3 444.7L63.3 445.8ZM69.1 444.3L67.1 443.2L67.7 442.2L64.7 442.8L65.7 445.7L66.3 444.7L68.3 445.8ZM74.2 444.3L72.2 443.2L72.7 442.2L69.7 442.8L70.7 445.7L71.3 444.7L73.3 445.8ZM79.2 444.3L77.2 443.2L77.8 442.2L74.8 442.8L75.8 445.7L76.3 444.7L78.3 445.8ZM214.7 444.3L212.7 443.2L213.3 442.2L210.3 442.8L211.3 445.7L211.9 444.7L213.9 445.8ZM219.7 444.3L217.7 443.2L218.3 442.2L215.3 442.8L216.3 445.7L216.9 444.7L218.9 445.8ZM224.8 444.3L222.8 443.2L223.3 442.2L220.3 442.8L221.3 445.7L221.9 444.7L223.9 445.8ZM229.8 444.3L227.8 443.2L228.4 442.2L225.4 442.8L226.4 445.7L226.9 444.7L228.9 445.8ZM234.8 444.3L232.8 443.2L233.4 442.2L230.4 442.8L231.4 445.7L232.0 444.7L233.9 445.8ZM239.8 444.3L237.8 443.2L238.4 442.2L235.4 442.8L236.4 445.7L237.0 444.7L239.0 445.8ZM244.8 444.3L242.8 443.2L243.4 442.2L240.4 442.8L241.4 445.7L242.0 444.7L244.0 445.8ZM249.9 444.3L247.9 443.2L248.4 442.2L245.4 442.8L246.4 445.7L247.0 444.7L249.0 445.8ZM254.9 444.3L252.9 443.2L253.5 442.2L250.5 442.8L251.5 445.7L252.0 444.7L254.0 445.8Z"/>
<path fill="#b6198c" d="M74.2 403.8L72.2 402.6L72.7 401.6L69.7 402.2L70.7 405.1L71.3 404.1L73.3 405.3Z"/>
<path fill="#a318a2" d="M77.6 405.7L77.6 403.4L78.8 403.4L76.8 401.1L74.8 403.4L75.9 403.4L75.9 405.7Z"/>
<path fill="#8e18be" d="M82.6 405.7L82.6 403.4L83.8 403.4L81.8 401.1L79.8 403.4L80.9 403.4L80.9 405.7ZM87.6 436.1L87.6 433.8L88.8 433.8L86.8 431.5L84.8 433.8L86.0 433.8L86.0 436.1Z"/>
<path fill="#7c18c6" d="M87.6 405.7L87.6 403.4L88.8 403.4L86.8 401.1L84.8 403.4L86.0 403.4L86.0 405.7Z"/>
<path fill="#5623d1" d="M92.7 405.7L92.7 403.4L93.8 403.4L91.8 401.1L89.8 403.4L91.0 403.4L91.0 405.7Z"/>
<path fill="#3843dd" d="M97.7 405.7L97.7 403.4L98.8 403.4L96.8 401.1L94.8 403.4L96.0 403.4L96.0 405.7Z"/>
<path fill="#2a56e3" d="M100.5 405.7L102.8 403.6L103.4 404.3L103.8 401.6L101.1 401.8L101.7 402.4L99.4 404.5ZM105.5 405.7L107.8 403.6L108.4 404.3L108.8 401.6L106.1 401.8L106.7 402.4L104.4 404.5ZM110.5 405.7L112.8 403.6L113.4 404.3L113.8 401.6L111.1 401.8L111.7 402.4L109.4 404.5ZM115.5 405.7L117.8 403.6L118.4 404.3L118.9 401.6L116.2 401.8L116.8 402.4L114.5 404.5ZM120.5 405.7L122.8 403.6L123.4 404.3L123.9 401.6L121.2 401.8L121.8 402.4L119.5 404.5ZM125.6 405.7L127.9 403.6L128.5 404.3L128.9 401.6L126.2 401.8L126.8 402.4L124.5 404.5ZM130.6 405.7L132.9 403.6L133.5 404.3L133.9 401.6L131.2 401.8L131.8 402.4L129.5 404.5ZM135.6 405.7L137.9 403.6L138.5 404.3L138.9 401.6L136.2 401.8L136.8 402.4L134.5 404.5ZM140.6 405.7L142.9 403.6L143.5 404.3L144.0 401.6L141.3 401.8L141.9 402.4L139.6 404.5ZM145.6 405.7L147.9 403.6L148.5 404.3L149.0 401.6L146.3 401.8L146.9 402.4L144.6 404.5ZM150.7 405.7L153.0 403.6L153.6 404.3L154.0 401.6L151.3 401.8L151.9 402.4L149.6 404.5ZM155.7 405.7L158.0 403.6L158.6 404.3L159.0 401.6L156.3 401.8L156.9 402.4L154.6 404.5ZM160.7 405.7L163.0 403.6L163.6 404.3L164.0 401.6L161.3 401.8L161.9 402.4L159.6 404.5ZM165.7 405.7L168.0 403.6L168.6 404.3L169.1 401.6L166.4 401.8L167.0 402.4L164.7 404.5ZM170.7 405.7L173.0 403.6L173.6 404.3L174.1 401.6L171.4 401.8L172.0 402.4L169.7 404.5ZM175.8 405.7L178.1 403.6L178.7 404.3L179.1 401.6L176.4 401.8L177.0 402.4L174.7 404.5ZM180.8 405.7L183.1 403.6L183.7 404.3L184.1 401.6L181.4 401.8L182.0 402.4L179.7 404.5ZM110.5 446.3L112.8 444.2L113.4 444.9L113.8 442.2L111.1 442.3L111.7 443.0L109.4 445.1ZM115.5 446.3L117.8 444.2L118.4 444.9L118.9 442.2L116.2 442.3L116.8 443.0L114.5 445.1ZM120.5 446.3L122.8 444.2L123.4 444.9L123.9 442.2L121.2 442.3L121.8 443.0L119.5 445.1ZM125.6 446.3L127.9 444.2L128.5 444.9L128.9 442.2L126.2 442.3L126.8 443.0L124.5 445.1ZM130.6 446.3L132.9 444.2L133.5 444.9L133.9 442.2L131.2 442.3L131.8 443.0L129.5 445.1ZM135.6 446.3L137.9 444.2L138.5 444.9L138.9 442.2L136.2 442.3L136.8 443.0L134.5 445.1ZM140.6 446.3L142.9 444.2L143.5 444.9L144.0 442.2L141.3 442.3L141.9 443.0L139.6 445.1ZM145.6 446.3L147.9 444.2L148.5 444.9L149.0 442.2L146.3 442.3L146.9 443.0L144.6 445.1ZM150.7 446.3L153.0 444.2L153.6 444.9L154.0 442.2L151.3 442.3L151.9 443.0L149.6 445.1ZM155.7 446.3L158.0 444.2L158.6 444.9L159.0 442.2L156.3 442.3L156.9 443.0L154.6 445.1ZM160.7 446.3L163.0 444.2L163.6 444.9L164.0 442.2L161.3 442.3L161.9 443.0L159.6 445.1ZM165.7 446.3L168.0 444.2L168.6 444.9L169.1 442.2L166.4 442.3L167.0 443.0L164.7 445.1ZM170.7 446.3L173.0 444.2L173.6 444.9L174.1 442.2L171.4 442.3L172.0 443.0L169.7 445.1ZM175.8 446.3L178.1 444.2L178.7 444.9L179.1 442.2L176.4 442.3L177.0 443.0L174.7 445.1ZM180.8 446.3L183.1 444.2L183.7 444.9L184.1 442.2L181.4 442.3L182.0 443.0L179.7 445.1ZM185.8 446.3L188.1 444.2L188.7 444.9L189.1 442.2L186.4 442.3L187.0 443.0L184.7 445.1Z"/>
<path fill="#2646d3" d="M188.0 405.7L188.0 403.4L189.2 403.4L187.2 401.1L185.2 403.4L186.3 403.4L186.3 405.7Z"/>
<path fill="#211aa6" d="M193.1 405.7L193.1 403.4L194.2 403.4L192.2 401.1L190.2 403.4L191.4 403.4L191.4 405.7Z"/>
<path fill="#511ace" d="M198.1 405.7L198.1 403.4L199.2 403.4L197.2 401.1L195.2 403.4L196.4 403.4L196.4 405.7Z"/>
<path fill="#8917af" d="M203.1 405.7L203.1 403.4L204.3 403.4L202.3 401.1L200.3 403.4L201.4 403.4L201.4 405.7Z"/>
<path fill="#ba1985" d="M209.7 403.8L207.7 402.6L208.3 401.6L205.3 402.2L206.3 405.1L206.9 404.1L208.8 405.3Z"/>
<path fill="#be1ebe" d="M39.0 408.9L37.0 407.7L37.6 406.7L34.6 407.3L35.6 410.2L36.2 409.2L38.2 410.3ZM44.0 408.9L42.0 407.7L42.6 406.7L39.6 407.3L40.6 410.2L41.2 409.2L43.2 410.3ZM49.1 408.9L47.1 407.7L47.6 406.7L44.6 407.3L45.6 410.2L46.2 409.2L48.2 410.3ZM54.1 408.9L52.1 407.7L52.7 406.7L49.7 407.3L50.7 410.2L51.2 409.2L53.2 410.3ZM59.1 408.9L57.1 407.7L57.7 406.7L54.7 407.3L55.7 410.2L56.3 409.2L58.2 410.3ZM64.1 408.9L62.1 407.7L62.7 406.7L59.7 407.3L60.7 410.2L61.3 409.2L63.3 410.3ZM69.1 408.9L67.1 407.7L67.7 406.7L64.7 407.3L65.7 410.2L66.3 409.2L68.3 410.3ZM214.7 408.9L212.7 407.7L213.3 406.7L210.3 407.3L211.3 410.2L211.9 409.2L213.9 410.3ZM219.7 408.9L217.7 407.7L218.3 406.7L215.3 407.3L216.3 410.2L216.9 409.2L218.9 410.3ZM224.8 408.9L222.8 407.7L223.3 406.7L220.3 407.3L221.3 410.2L221.9 409.2L223.9 410.3ZM229.8 408.9L227.8 407.7L228.4 406.7L225.4 407.3L226.4 410.2L226.9 409.2L228.9 410.3ZM234.8 408.9L232.8 407.7L233.4 406.7L230.4 407.3L231.4 410.2L232.0 409.2L233.9 410.3ZM239.8 408.9L237.8 407.7L238.4 406.7L235.4 407.3L236.4 410.2L237.0 409.2L239.0 410.3ZM244.8 408.9L242.8 407.7L243.4 406.7L240.4 407.3L241.4 410.2L242.0 409.2L244.0 410.3ZM249.9 408.9L247.9 407.7L248.4 406.7L245.4 407.3L246.4 410.2L247.0 409.2L249.0 410.3ZM254.9 408.9L252.9 407.7L253.5 406.7L250.5 407.3L251.5 410.2L252.0 409.2L254.0 410.3ZM39.0 413.9L37.0 412.8L37.6 411.8L34.6 412.4L35.6 415.2L36.2 414.2L38.2 415.4ZM44.0 413.9L42.0 412.8L42.6 411.8L39.6 412.4L40.6 415.2L41.2 414.2L43.2 415.4ZM49.1 413.9L47.1 412.8L47.6 411.8L44.6 412.4L45.6 415.2L46.2 414.2L48.2 415.4ZM54.1 413.9L52.1 412.8L52.7 411.8L49.7 412.4L50.7 415.2L51.2 414.2L53.2 415.4ZM59.1 413.9L57.1 412.8L57.7 411.8L54.7 412.4L55.7 415.2L56.3 414.2L58.2 415.4ZM64.1 413.9L62.1 412.8L62.7 411.8L59.7 412.4L60.7 415.2L61.3 414.2L63.3 415.4ZM69.1 413.9L67.1 412.8L67.7 411.8L64.7 412.4L65.7 415.2L66.3 414.2L68.3 415.4ZM74.2 413.9L72.2 412.8L72.7 411.8L69.7 412.4L70.7 415.2L71.3 414.2L73.3 415.4ZM214.7 413.9L212.7 412.8L213.3 411.8L210.3 412.4L211.3 415.2L211.9 414.2L213.9 415.4ZM219.7 413.9L217.7 412.8L218.3 411.8L215.3 412.4L216.3 415.2L216.9 414.2L218.9 415.4ZM224.8 413.9L222.8 412.8L223.3 411.8L220.3 412.4L221.3 415.2L221.9 414.2L223.9 415.4ZM229.8 413.9L227.8 412.8L228.4 411.8L225.4 412.4L226.4 415.2L226.9 414.2L228.9 415.4ZM234.8 413.9L232.8 412.8L233.4 411.8L230.4 412.4L231.4 415.2L232.0 414.2L233.9 415.4ZM239.8 413.9L237.8 412.8L238.4 411.8L235.4 412.4L236.4 415.2L237.0 414.2L239.0 415.4ZM244.8 413.9L242.8 412.8L243.4 411.8L240.4 412.4L241.4 415.2L242.0 414.2L244.0 415.4ZM249.9 413.9L247.9 412.8L248.4 411.8L245.4 412.4L246.4 415.2L247.0 414.2L249.0 415.4ZM254.9 413.9L252.9 412.8L253.5 411.8L250.5 412.4L251.5 415.2L252.0 414.2L254.0 415.4ZM39.0 419.0L37.0 417.8L37.6 416.8L34.6 417.4L35.6 420.3L36.2 419.3L38.2 420.5ZM44.0 419.0L42.0 417.8L42.6 416.8L39.6 417.4L40.6 420.3L41.2 419.3L43.2 420.5ZM49.1 419.0L47.1 417.8L47.6 416.8L44.6 417.4L45.6 420.3L46.2 419.3L48.2 420.5ZM54.1 419.0L52.1 417.8L52.7 416.8L49.7 417.4L50.7 420.3L51.2 419.3L53.2 420.5ZM59.1 419.0L57.1 417.8L57.7 416.8L54.7 417.4L55.7 420.3L56.3 419.3L58.2 420.5ZM64.1 419.0L62.1 417.8L62.7 416.8L59.7 417.4L60.7 420.3L61.3 419.3L63.3 420.5ZM69.1 419.0L67.1 417.8L67.7 416.8L64.7 417.4L65.7 420.3L66.3 419.3L68.3 420.5ZM74.2 419.0L72.2 417.8L72.7 416.8L69.7 417.4L70.7 420.3L71.3 419.3L73.3 420.5ZM214.7 419.0L212.7 417.8L213.3 416.8L210.3 417.4L211.3 420.3L211.9 419.3L213.9 420.5ZM219.7 419.0L217.7 417.8L218.3 416.8L215.3 417.4L216.3 420.3L216.9 419.3L218.9 420.5ZM224.8 419.0L222.8 417.8L223.3 416.8L220.3 417.4L221.3 420.3L221.9 419.3L223.9 420.5ZM229.8 419.0L227.8 417.8L228.4 416.8L225.4 417.4L226.4 420.3L226.9 419.3L228.9 420.5ZM234.8 419.0L232.8 417.8L233.4 416.8L230.4 417.4L231.4 420.3L232.0 419.3L233.9 420.5ZM239.8 419.0L237.8 417.8L238.4 416.8L235.4 417.4L236.4 420.3L237.0 419.3L239.0 420.5ZM244.8 419.0L242.8 417.8L243.4 416.8L240.4 417.4L241.4 420.3L242.0 419.3L244.0 420.5ZM249.9 419.0L247.9 417.8L248.4 416.8L245.4 417.4L246.4 420.3L247.0 419.3L249.0 420.5ZM254.9 419.0L252.9 417.8L253.5 416.8L250.5 417.4L251.5 420.3L252.0 419.3L254.0 420.5ZM39.0 424.1L37.0 422.9L37.6 421.9L34.6 422.5L35.6 425.4L36.2 424.4L38.2 425.5ZM44.0 424.1L42.0 422.9L42.6 421.9L39.6 422.5L40.6 425.4L41.2 424.4L43.2 425.5ZM49.1 424.1L47.1 422.9L47.6 421.9L44.6 422.5L45.6 425.4L46.2 424.4L48.2 425.5ZM54.1 424.1L52.1 422.9L52.7 421.9L49.7 422.5L50.7 425.4L51.2 424.4L53.2 425.5ZM59.1 424.1L57.1 422.9L57.7 421.9L54.7 422.5L55.7 425.4L56.3 424.4L58.2 425.5ZM64.1 424.1L62.1 422.9L62.7 421.9L59.7 422.5L60.7 425.4L61.3 424.4L63.3 425.5ZM69.1 424.1L67.1 422.9L67.7 421.9L64.7 422.5L65.7 425.4L66.3 424.4L68.3 425.5ZM74.2 424.1L72.2 422.9L72.7 421.9L69.7 422.5L70.7 425.4L71.3 424.4L73.3 425.5ZM214.7 424.1L212.7 422.9L213.3 421.9L210.3 422.5L211.3 425.4L211.9 424.4L213.9 425.5ZM219.7 424.1L217.7 422.9L218.3 421.9L215.3 422.5L216.3 425.4L216.9 424.4L218.9 425.5ZM224.8 424.1L222.8 422.9L223.3 421.9L220.3 422.5L221.3 425.4L221.9 424.4L223.9 425.5ZM229.8 424.1L227.8 422.9L228.4 421.9L225.4 422.5L226.4 425.4L226.9 424.4L228.9 425.5ZM234.8 424.1L232.8 422.9L233.4 421.9L230.4 422.5L231.4 425.4L232.0 424.4L233.9 425.5ZM239.8 424.1L237.8 422.9L238.4 421.9L235.4 422.5L236.4 425.4L237.0 424.4L239.0 425.5ZM244.8 424.1L242.8 422.9L243.4 421.9L240.4 422.5L241.4 425.4L242.0 424.4L244.0 425.5ZM249.9 424.1L247.9 422.9L248.4 421.9L245.4 422.5L246.4 425.4L247.0 424.4L249.0 425.5ZM254.9 424.1L252.9 422.9L253.5 421.9L250.5 422.5L251.5 425.4L252.0 424.4L254.0 425.5ZM39.0 429.1L37.0 428.0L37.6 427.0L34.6 427.6L35.6 430.5L36.2 429.5L38.2 430.6ZM44.0 429.1L42.0 428.0L42.6 427.0L39.6 427.6L40.6 430.5L41.2 429.5L43.2 430.6ZM49.1 429.1L47.1 428.0L47.6 427.0L44.6 427.6L45.6 430.5L46.2 429.5L48.2 430.6ZM54.1 429.1L52.1 428.0L52.7 427.0L49.7 427.6L50.7 430.5L51.2 429.5L53.2 430.6ZM59.1 429.1L57.1 428.0L57.7 427.0L54.7 427.6L55.7 430.5L56.3 429.5L58.2 430.6ZM64.1 429.1L62.1 428.0L62.7 427.0L59.7 427.6L60.7 430.5L61.3 429.5L63.3 430.6ZM69.1 429.1L67.1 428.0L67.7 427.0L64.7 427.6L65.7 430.5L66.3 429.5L68.3 430.6ZM74.2 429.1L72.2 428.0L72.7 427.0L69.7 427.6L70.7 430.5L71.3 429.5L73.3 430.6ZM214.7 429.1L212.7 428.0L213.3 427.0L210.3 427.6L211.3 430.5L211.9 429.5L213.9 430.6ZM219.7 429.1L217.7 428.0L218.3 427.0L215.3 427.6L216.3 430.5L216.9 429.5L218.9 430.6ZM224.8 429.1L222.8 428.0L223.3 427.0L220.3 427.6L221.3 430.5L221.9 429.5L223.9 430.6ZM229.8 429.1L227.8 428.0L228.4 427.0L225.4 427.6L226.4 430.5L226.9 429.5L228.9 430.6ZM234.8 429.1L232.8 428.0L233.4 427.0L230.4 427.6L231.4 430.5L232.0 429.5L233.9 430.6ZM239.8 429.1L237.8 428.0L238.4 427.0L235.4 427.6L236.4 430.5L237.0 429.5L239.0 430.6ZM244.8 429.1L242.8 428.0L243.4 427.0L240.4 427.6L241.4 430.5L242.0 429.5L244.0 430.6ZM249.9 429.1L247.9 428.0L248.4 427.0L245.4 427.6L246.4 430.5L247.0 429.5L249.0 430.6ZM254.9 429.1L252.9 428.0L253.5 427.0L250.5 427.6L251.5 430.5L252.0 429.5L254.0 430.6ZM39.0 434.2L37.0 433.1L37.6 432.1L34.6 432.6L35.6 435.5L36.2 434.5L38.2 435.7ZM44.0 434.2L42.0 433.1L42.6 432.1L39.6 432.6L40.6 435.5L41.2 434.5L43.2 435.7ZM49.1 434.2L47.1 433.1L47.6 432.1L44.6 432.6L45.6 435.5L46.2 434.5L48.2 435.7ZM54.1 434.2L52.1 433.1L52.7 432.1L49.7 432.6L50.7 435.5L51.2 434.5L53.2 435.7ZM59.1 434.2L57.1 433.1L57.7 432.1L54.7 432.6L55.7 435.5L56.3 434.5L58.2 435.7ZM64.1 434.2L62.1 433.1L62.7 432.1L59.7 432.6L60.7 435.5L61.3 434.5L63.3 435.7ZM69.1 434.2L67.1 433.1L67.7 432.1L64.7 432.6L65.7 435.5L66.3 434.5L68.3 435.7ZM74.2 434.2L72.2 433.1L72.7 432.1L69.7 432.6L70.7 435.5L71.3 434.5L73.3 435.7ZM214.7 434.2L212.7 433.1L213.3 432.1L210.3 432.6L211.3 435.5L211.9 434.5L213.9 435.7ZM219.7 434.2L217.7 433.1L218.3 432.1L215.3 432.6L216.3 435.5L216.9 434.5L218.9 435.7ZM224.8 434.2L222.8 433.1L223.3 432.1L220.3 432.6L221.3 435.5L221.9 434.5L223.9 435.7ZM229.8 434.2L227.8 433.1L228.4 432.1L225.4 432.6L226.4 435.5L226.9 434.5L228.9 435.7ZM234.8 434.2L232.8 433.1L233.4 432.1L230.4 432.6L231.4 435.5L232.0 434.5L233.9 435.7ZM239.8 434.2L237.8 433.1L238.4 432.1L235.4 432.6L236.4 435.5L237.0 434.5L239.0 435.7ZM244.8 434.2L242.8 433.1L243.4 432.1L240.4 432.6L241.4 435.5L242.0 434.5L244.0 435.7ZM249.9 434.2L247.9 433.1L248.4 432.1L245.4 432.6L246.4 435.5L247.0 434.5L249.0 435.7ZM254.9 434.2L252.9 433.1L253.5 432.1L250.5 432.6L251.5 435.5L252.0 434.5L254.0 435.7ZM39.0 439.3L37.0 438.1L37.6 437.1L34.6 437.7L35.6 440.6L36.2 439.6L38.2 440.7ZM44.0 439.3L42.0 438.1L42.6 437.1L39.6 437.7L40.6 440.6L41.2 439.6L43.2 440.7ZM49.1 439.3L47.1 438.1L47.6 437.1L44.6 437.7L45.6 440.6L46.2 439.6L48.2 440.7ZM54.1 439.3L52.1 438.1L52.7 437.1L49.7 437.7L50.7 440.6L51.2 439.6L53.2 440.7ZM59.1 439.3L57.1 438.1L57.7 437.1L54.7 437.7L55.7 440.6L56.3 439.6L58.2 440.7ZM64.1 439.3L62.1 438.1L62.7 437.1L59.7 437.7L60.7 440.6L61.3 439.6L63.3 440.7ZM69.1 439.3L67.1 438.1L67.7 437.1L64.7 437.7L65.7 440.6L66.3 439.6L68.3 440.7ZM74.2 439.3L72.2 438.1L72.7 437.1L69.7 437.7L70.7 440.6L71.3 439.6L73.3 440.7ZM214.7 439.3L212.7 438.1L213.3 437.1L210.3 437.7L211.3 440.6L211.9 439.6L213.9 440.7ZM219.7 439.3L217.7 438.1L218.3 437.1L215.3 437.7L216.3 440.6L216.9 439.6L218.9 440.7ZM224.8 439.3L222.8 438.1L223.3 437.1L220.3 437.7L221.3 440.6L221.9 439.6L223.9 440.7ZM229.8 439.3L227.8 438.1L228.4 437.1L225.4 437.7L226.4 440.6L226.9 439.6L228.9 440.7ZM234.8 439.3L232.8 438.1L233.4 437.1L230.4 437.7L231.4 440.6L232.0 439.6L233.9 440.7ZM239.8 439.3L237.8 438.1L238.4 437.1L235.4 437.7L236.4 440.6L237.0 439.6L239.0 440.7ZM244.8 439.3L242.8 438.1L243.4 437.1L240.4 437.7L241.4 440.6L242.0 439.6L244.0 440.7ZM249.9 439.3L247.9 438.1L248.4 437.1L245.4 437.7L246.4 440.6L247.0 439.6L249.0 440.7ZM254.9 439.3L252.9 438.1L253.5 437.1L250.5 437.7L251.5 440.6L252.0 439.6L254.0 440.7Z"/>
<path fill="#ba1dbe" d="M74.2 408.9L72.2 407.7L72.7 406.7L69.7 407.3L70.7 410.2L71.3 409.2L73.3 410.3Z"/>
<path fill="#a21abb" d="M77.6 410.7L77.6 408.4L78.8 408.4L76.8 406.1L74.8 408.4L75.9 408.4L75.9 410.7Z"/>
<path fill="#9018be" d="M82.6 410.7L82.6 408.4L83.8 408.4L81.8 406.1L79.8 408.4L80.9 408.4L80.9 410.7Z"/>
<path fill="#8218c4" d="M87.6 410.7L87.6 408.4L88.8 408.4L86.8 406.1L84.8 408.4L86.0 408.4L86.0 410.7Z"/>
<path fill="#6119cd" d="M92.7 410.7L92.7 408.4L93.8 408.4L91.8 406.1L89.8 408.4L91.0 408.4L91.0 410.7Z"/>
<path fill="#4323d3" d="M97.7 410.7L97.7 408.4L98.8 408.4L96.8 406.1L94.8 408.4L96.0 408.4L96.0 410.7Z"/>
<path fill="#2731d7" d="M100.5 410.8L102.8 408.7L103.4 409.4L103.8 406.7L101.1 406.8L101.7 407.5L99.4 409.6Z"/>
<path fill="#2234d8" d="M105.5 410.8L107.8 408.7L108.4 409.4L108.8 406.7L106.1 406.8L106.7 407.5L104.4 409.6ZM110.5 410.8L112.8 408.7L113.4 409.4L113.8 406.7L111.1 406.8L111.7 407.5L109.4 409.6ZM115.5 410.8L117.8 408.7L118.4 409.4L118.9 406.7L116.2 406.8L116.8 407.5L114.5 409.6ZM120.5 410.8L122.8 408.7L123.4 409.4L123.9 406.7L121.2 406.8L121.8 407.5L119.5 409.6ZM125.6 410.8L127.9 408.7L128.5 409.4L128.9 406.7L126.2 406.8L126.8 407.5L124.5 409.6ZM130.6 410.8L132.9 408.7L133.5 409.4L133.9 406.7L131.2 406.8L131.8 407.5L129.5 409.6ZM135.6 410.8L137.9 408.7L138.5 409.4L138.9 406.7L136.2 406.8L136.8 407.5L134.5 409.6ZM140.6 410.8L142.9 408.7L143.5 409.4L144.0 406.7L141.3 406.8L141.9 407.5L139.6 409.6ZM145.6 410.8L147.9 408.7L148.5 409.4L149.0 406.7L146.3 406.8L146.9 407.5L144.6 409.6ZM150.7 410.8L153.0 408.7L153.6 409.4L154.0 406.7L151.3 406.8L151.9 407.5L149.6 409.6ZM155.7 410.8L158.0 408.7L158.6 409.4L159.0 406.7L156.3 406.8L156.9 407.5L154.6 409.6ZM160.7 410.8L163.0 408.7L163.6 409.4L164.0 406.7L161.3 406.8L161.9 407.5L159.6 409.6ZM165.7 410.8L168.0 408.7L168.6 409.4L169.1 406.7L166.4 406.8L167.0 407.5L164.7 409.6ZM170.7 410.8L173.0 408.7L173.6 409.4L174.1 406.7L171.4 406.8L172.0 407.5L169.7 409.6ZM175.8 410.8L178.1 408.7L178.7 409.4L179.1 406.7L176.4 406.8L177.0 407.5L174.7 409.6ZM180.8 410.8L183.1 408.7L183.7 409.4L184.1 406.7L181.4 406.8L182.0 407.5L179.7 409.6ZM105.5 415.8L107.8 413.8L108.4 414.4L108.8 411.8L106.1 411.9L106.7 412.6L104.4 414.7ZM110.5 415.8L112.8 413.8L113.4 414.4L113.8 411.8L111.1 411.9L111.7 412.6L109.4 414.7ZM115.5 415.8L117.8 413.8L118.4 414.4L118.9 411.8L116.2 411.9L116.8 412.6L114.5 414.7ZM120.5 415.8L122.8 413.8L123.4 414.4L123.9 411.8L121.2 411.9L121.8 412.6L119.5 414.7ZM125.6 415.8L127.9 413.8L128.5 414.4L128.9 411.8L126.2 411.9L126.8 412.6L124.5 414.7ZM130.6 415.8L132.9 413.8L133.5 414.4L133.9 411.8L131.2 411.9L131.8 412.6L129.5 414.7ZM135.6 415.8L137.9 413.8L138.5 414.4L138.9 411.8L136.2 411.9L136.8 412.6L134.5 414.7ZM140.6 415.8L142.9 413.8L143.5 414.4L144.0 411.8L141.3 411.9L141.9 412.6L139.6 414.7ZM145.6 415.8L147.9 413.8L148.5 414.4L149.0 411.8L146.3 411.9L146.9 412.6L144.6 414.7ZM150.7 415.8L153.0 413.8L153.6 414.4L154.0 411.8L151.3 411.9L151.9 412.6L149.6 414.7ZM155.7 415.8L158.0 413.8L158.6 414.4L159.0 411.8L156.3 411.9L156.9 412.6L154.6 414.7ZM160.7 415.8L163.0 413.8L163.6 414.4L164.0 411.8L161.3 411.9L161.9 412.6L159.6 414.7ZM165.7 415.8L168.0 413.8L168.6 414.4L169.1 411.8L166.4 411.9L167.0 412.6L164.7 414.7ZM170.7 415.8L173.0 413.8L173.6 414.4L174.1 411.8L171.4 411.9L172.0 412.6L169.7 414.7ZM175.8 415.8L178.1 413.8L178.7 414.4L179.1 411.8L176.4 411.9L177.0 412.6L174.7 414.7ZM180.8 415.8L183.1 413.8L183.7 414.4L184.1 411.8L181.4 411.9L182.0 412.6L179.7 414.7ZM105.5 420.9L107.8 418.8L108.4 419.5L108.8 416.8L106.1 417.0L106.7 417.7L104.4 419.7ZM110.5 420.9L112.8 418.8L113.4 419.5L113.8 416.8L111.1 417.0L111.7 417.7L109.4 419.7ZM115.5 420.9L117.8 418.8L118.4 419.5L118.9 416.8L116.2 417.0L116.8 417.7L114.5 419.7ZM120.5 420.9L122.8 418.8L123.4 419.5L123.9 416.8L121.2 417.0L121.8 417.7L119.5 419.7ZM125.6 420.9L127.9 418.8L128.5 419.5L128.9 416.8L126.2 417.0L126.8 417.7L124.5 419.7ZM130.6 420.9L132.9 418.8L133.5 419.5L133.9 416.8L131.2 417.0L131.8 417.7L129.5 419.7ZM135.6 420.9L137.9 418.8L138.5 419.5L138.9 416.8L136.2 417.0L136.8 417.7L134.5 419.7ZM140.6 420.9L142.9 418.8L143.5 419.5L144.0 416.8L141.3 417.0L141.9 417.7L139.6 419.7ZM145.6 420.9L147.9 418.8L148.5 419.5L149.0 416.8L146.3 417.0L146.9 417.7L144.6 419.7ZM150.7 420.9L153.0 418.8L153.6 419.5L154.0 416.8L151.3 417.0L151.9 417.7L149.6 419.7ZM155.7 420.9L158.0 418.8L158.6 419.5L159.0 416.8L156.3 417.0L156.9 417.7L154.6 419.7ZM160.7 420.9L163.0 418.8L163.6 419.5L164.0 416.8L161.3 417.0L161.9 417.7L159.6 419.7ZM165.7 420.9L168.0 418.8L168.6 419.5L169.1 416.8L166.4 417.0L167.0 417.7L164.7 419.7ZM170.7 420.9L173.0 418.8L173.6 419.5L174.1 416.8L171.4 417.0L172.0 417.7L169.7 419.7ZM175.8 420.9L178.1 418.8L178.7 419.5L179.1 416.8L176.4 417.0L177.0 417.7L174.7 419.7ZM180.8 420.9L183.1 418.8L183.7 419.5L184.1 416.8L181.4 417.0L182.0 417.7L179.7 419.7ZM105.5 426.0L107.8 423.9L108.4 424.6L108.8 421.9L106.1 422.1L106.7 422.7L104.4 424.8ZM110.5 426.0L112.8 423.9L113.4 424.6L113.8 421.9L111.1 422.1L111.7 422.7L109.4 424.8ZM115.5 426.0L117.8 423.9L118.4 424.6L118.9 421.9L116.2 422.1L116.8 422.7L114.5 424.8ZM120.5 426.0L122.8 423.9L123.4 424.6L123.9 421.9L121.2 422.1L121.8 422.7L119.5 424.8ZM125.6 426.0L127.9 423.9L128.5 424.6L128.9 421.9L126.2 422.1L126.8 422.7L124.5 424.8ZM130.6 426.0L132.9 423.9L133.5 424.6L133.9 421.9L131.2 422.1L131.8 422.7L129.5 424.8ZM135.6 426.0L137.9 423.9L138.5 424.6L138.9 421.9L136.2 422.1L136.8 422.7L134.5 424.8ZM140.6 426.0L142.9 423.9L143.5 424.6L144.0 421.9L141.3 422.1L141.9 422.7L139.6 424.8ZM145.6 426.0L147.9 423.9L148.5 424.6L149.0 421.9L146.3 422.1L146.9 422.7L144.6 424.8ZM150.7 426.0L153.0 423.9L153.6 424.6L154.0 421.9L151.3 422.1L151.9 422.7L149.6 424.8ZM155.7 426.0L158.0 423.9L158.6 424.6L159.0 421.9L156.3 422.1L156.9 422.7L154.6 424.8ZM160.7 426.0L163.0 423.9L163.6 424.6L164.0 421.9L161.3 422.1L161.9 422.7L159.6 424.8ZM165.7 426.0L168.0 423.9L168.6 424.6L169.1 421.9L166.4 422.1L167.0 422.7L164.7 424.8ZM170.7 426.0L173.0 423.9L173.6 424.6L174.1 421.9L171.4 422.1L172.0 422.7L169.7 424.8ZM175.8 426.0L178.1 423.9L178.7 424.6L179.1 421.9L176.4 422.1L177.0 422.7L174.7 424.8ZM180.8 426.0L183.1 423.9L183.7 424.6L184.1 421.9L181.4 422.1L182.0 422.7L179.7 424.8ZM105.5 431.1L107.8 429.0L108.4 429.6L108.8 427.0L106.1 427.1L106.7 427.8L104.4 429.9ZM110.5 431.1L112.8 429.0L113.4 429.6L113.8 427.0L111.1 427.1L111.7 427.8L109.4 429.9ZM115.5 431.1L117.8 429.0L118.4 429.6L118.9 427.0L116.2 427.1L116.8 427.8L114.5 429.9ZM120.5 431.1L122.8 429.0L123.4 429.6L123.9 427.0L121.2 427.1L121.8 427.8L119.5 429.9ZM125.6 431.1L127.9 429.0L128.5 429.6L128.9 427.0L126.2 427.1L126.8 427.8L124.5 429.9ZM130.6 431.1L132.9 429.0L133.5 429.6L133.9 427.0L131.2 427.1L131.8 427.8L129.5 429.9ZM135.6 431.1L137.9 429.0L138.5 429.6L138.9 427.0L136.2 427.1L136.8 427.8L134.5 429.9ZM140.6 431.1L142.9 429.0L143.5 429.6L144.0 427.0L141.3 427.1L141.9 427.8L139.6 429.9ZM145.6 431.1L147.9 429.0L148.5 429.6L149.0 427.0L146.3 427.1L146.9 427.8L144.6 429.9ZM150.7 431.1L153.0 429.0L153.6 429.6L154.0 427.0L151.3 427.1L151.9 427.8L149.6 429.9ZM155.7 431.1L158.0 429.0L158.6 429.6L159.0 427.0L156.3 427.1L156.9 427.8L154.6 429.9ZM160.7 431.1L163.0 429.0L163.6 429.6L164.0 427.0L161.3 427.1L161.9 427.8L159.6 429.9ZM165.7 431.1L168.0 429.0L168.6 429.6L169.1 427.0L166.4 427.1L167.0 427.8L164.7 429.9ZM170.7 431.1L173.0 429.0L173.6 429.6L174.1 427.0L171.4 427.1L172.0 427.8L169.7 429.9ZM175.8 431.1L178.1 429.0L178.7 429.6L179.1 427.0L176.4 427.1L177.0 427.8L174.7 429.9ZM180.8 431.1L183.1 429.0L183.7 429.6L184.1 427.0L181.4 427.1L182.0 427.8L179.7 429.9ZM110.5 436.1L112.8 434.0L113.4 434.7L113.8 432.1L111.1 432.2L111.7 432.9L109.4 434.9ZM115.5 436.1L117.8 434.0L118.4 434.7L118.9 432.1L116.2 432.2L116.8 432.9L114.5 434.9ZM120.5 436.1L122.8 434.0L123.4 434.7L123.9 432.1L121.2 432.2L121.8 432.9L119.5 434.9ZM125.6 436.1L127.9 434.0L128.5 434.7L128.9 432.1L126.2 432.2L126.8 432.9L124.5 434.9ZM130.6 436.1L132.9 434.0L133.5 434.7L133.9 432.1L131.2 432.2L131.8 432.9L129.5 434.9ZM135.6 436.1L137.9 434.0L138.5 434.7L138.9 432.1L136.2 432.2L136.8 432.9L134.5 434.9ZM140.6 436.1L142.9 434.0L143.5 434.7L144.0 432.1L141.3 432.2L141.9 432.9L139.6 434.9ZM145.6 436.1L147.9 434.0L148.5 434.7L149.0 432.1L146.3 432.2L146.9 432.9L144.6 434.9ZM150.7 436.1L153.0 434.0L153.6 434.7L154.0 432.1L151.3 432.2L151.9 432.9L149.6 434.9ZM155.7 436.1L158.0 434.0L158.6 434.7L159.0 432.1L156.3 432.2L156.9 432.9L154.6 434.9ZM160.7 436.1L163.0 434.0L163.6 434.7L164.0 432.1L161.3 432.2L161.9 432.9L159.6 434.9ZM165.7 436.1L168.0 434.0L168.6 434.7L169.1 432.1L166.4 432.2L167.0 432.9L164.7 434.9ZM170.7 436.1L173.0 434.0L173.6 434.7L174.1 432.1L171.4 432.2L172.0 432.9L169.7 434.9ZM175.8 436.1L178.1 434.0L178.7 434.7L179.1 432.1L176.4 432.2L177.0 432.9L174.7 434.9ZM180.8 436.1L183.1 434.0L183.7 434.7L184.1 432.1L181.4 432.2L182.0 432.9L179.7 434.9ZM185.8 436.1L188.1 434.0L188.7 434.7L189.1 432.1L186.4 432.2L187.0 432.9L184.7 434.9ZM110.5 441.2L112.8 439.1L113.4 439.8L113.8 437.1L111.1 437.3L111.7 437.9L109.4 440.0ZM115.5 441.2L117.8 439.1L118.4 439.8L118.9 437.1L116.2 437.3L116.8 437.9L114.5 440.0ZM120.5 441.2L122.8 439.1L123.4 439.8L123.9 437.1L121.2 437.3L121.8 437.9L119.5 440.0ZM125.6 441.2L127.9 439.1L128.5 439.8L128.9 437.1L126.2 437.3L126.8 437.9L124.5 440.0ZM130.6 441.2L132.9 439.1L133.5 439.8L133.9 437.1L131.2 437.3L131.8 437.9L129.5 440.0ZM135.6 441.2L137.9 439.1L138.5 439.8L138.9 437.1L136.2 437.3L136.8 437.9L134.5 440.0ZM140.6 441.2L142.9 439.1L143.5 439.8L144.0 437.1L141.3 437.3L141.9 437.9L139.6 440.0ZM145.6 441.2L147.9 439.1L148.5 439.8L149.0 437.1L146.3 437.3L146.9 437.9L144.6 440.0ZM150.7 441.2L153.0 439.1L153.6 439.8L154.0 437.1L151.3 437.3L151.9 437.9L149.6 440.0ZM155.7 441.2L158.0 439.1L158.6 439.8L159.0 437.1L156.3 437.3L156.9 437.9L154.6 440.0ZM160.7 441.2L163.0 439.1L163.6 439.8L164.0 437.1L161.3 437.3L161.9 437.9L159.6 440.0ZM165.7 441.2L168.0 439.1L168.6 439.8L169.1 437.1L166.4 437.3L167.0 437.9L164.7 440.0ZM170.7 441.2L173.0 439.1L173.6 439.8L174.1 437.1L171.4 437.3L172.0 437.9L169.7 440.0ZM175.8 441.2L178.1 439.1L178.7 439.8L179.1 437.1L176.4 437.3L177.0 437.9L174.7 440.0ZM180.8 441.2L183.1 439.1L183.7 439.8L184.1 437.1L181.4 437.3L182.0 437.9L179.7 440.0ZM185.8 441.2L188.1 439.1L188.7 439.8L189.1 437.1L186.4 437.3L187.0 437.9L184.7 440.0Z"/>
<path fill="#1f2cc6" d="M188.0 410.7L188.0 408.4L189.2 408.4L187.2 406.1L185.2 408.4L186.3 408.4L186.3 410.7Z"/>
<path fill="#1c1aa2" d="M193.1 410.7L193.1 408.4L194.2 408.4L192.2 406.1L190.2 408.4L191.4 408.4L191.4 410.7Z"/>
<path fill="#4d1aca" d="M198.1 410.7L198.1 408.4L199.2 408.4L197.2 406.1L195.2 408.4L196.4 408.4L196.4 410.7Z"/>
<path fill="#7b18c6" d="M203.1 410.7L203.1 408.4L204.3 408.4L202.3 406.1L200.3 408.4L201.4 408.4L201.4 410.7Z"/>
<path fill="#b51dbf" d="M209.7 408.9L207.7 407.7L208.3 406.7L205.3 407.3L206.3 410.2L206.9 409.2L208.8 410.3Z"/>
<path fill="#a61abb" d="M77.6 415.8L77.6 413.5L78.8 413.5L76.8 411.2L74.8 413.5L75.9 413.5L75.9 415.8Z"/>
<path fill="#9218bd" d="M82.6 415.8L82.6 413.5L83.8 413.5L81.8 411.2L79.8 413.5L80.9 413.5L80.9 415.8Z"/>
<path fill="#8418c3" d="M87.6 415.8L87.6 413.5L88.8 413.5L86.8 411.2L84.8 413.5L86.0 413.5L86.0 415.8Z"/>
<path fill="#6719cb" d="M92.7 415.8L92.7 413.5L93.8 413.5L91.8 411.2L89.8 413.5L91.0 413.5L91.0 415.8Z"/>
<path fill="#4820d2" d="M97.7 415.8L97.7 413.5L98.8 413.5L96.8 411.2L94.8 413.5L96.0 413.5L96.0 415.8Z"/>
<path fill="#2c2fd6" d="M100.5 415.8L102.8 413.8L103.4 414.4L103.8 411.8L101.1 411.9L101.7 412.6L99.4 414.7Z"/>
<path fill="#202eca" d="M188.0 415.8L188.0 413.5L189.2 413.5L187.2 411.2L185.2 413.5L186.3 413.5L186.3 415.8Z"/>
<path fill="#1a1ba2" d="M193.1 415.8L193.1 413.5L194.2 413.5L192.2 411.2L190.2 413.5L191.4 413.5L191.4 415.8Z"/>
<path fill="#481ac6" d="M198.1 415.8L198.1 413.5L199.2 413.5L197.2 411.2L195.2 413.5L196.4 413.5L196.4 415.8Z"/>
<path fill="#7718c7" d="M203.1 415.8L203.1 413.5L204.3 413.5L202.3 411.2L200.3 413.5L201.4 413.5L201.4 415.8Z"/>
<path fill="#af1dbf" d="M208.1 415.8L208.1 413.5L209.3 413.5L207.3 411.2L205.3 413.5L206.4 413.5L206.4 415.8Z"/>
<path fill="#aa1bbc" d="M77.6 420.9L77.6 418.6L78.8 418.6L76.8 416.3L74.8 418.6L75.9 418.6L75.9 420.9Z"/>
<path fill="#9518bb" d="M82.6 420.9L82.6 418.6L83.8 418.6L81.8 416.3L79.8 418.6L80.9 418.6L80.9 420.9Z"/>
<path fill="#8718c2" d="M87.6 420.9L87.6 418.6L88.8 418.6L86.8 416.3L84.8 418.6L86.0 418.6L86.0 420.9Z"/>
<path fill="#6d19ca" d="M92.7 420.9L92.7 418.6L93.8 418.6L91.8 416.3L89.8 418.6L91.0 418.6L91.0 420.9Z"/>
<path fill="#4d1ed1" d="M97.7 420.9L97.7 418.6L98.8 418.6L96.8 416.3L94.8 418.6L96.0 418.6L96.0 420.9Z"/>
<path fill="#312cd6" d="M100.5 420.9L102.8 418.8L103.4 419.5L103.8 416.8L101.1 417.0L101.7 417.7L99.4 419.7Z"/>
<path fill="#2130ce" d="M188.0 420.9L188.0 418.6L189.2 418.6L187.2 416.3L185.2 418.6L186.3 418.6L186.3 420.9Z"/>
<path fill="#1b1da6" d="M193.1 420.9L193.1 418.6L194.2 418.6L192.2 416.3L190.2 418.6L191.4 418.6L191.4 420.9Z"/>
<path fill="#431ac2" d="M198.1 420.9L198.1 418.6L199.2 418.6L197.2 416.3L195.2 418.6L196.4 418.6L196.4 420.9Z"/>
<path fill="#7219c8" d="M203.1 420.9L203.1 418.6L204.3 418.6L202.3 416.3L200.3 418.6L201.4 418.6L201.4 420.9Z"/>
<path fill="#a91cc0" d="M208.1 420.9L208.1 418.6L209.3 418.6L207.3 416.3L205.3 418.6L206.4 418.6L206.4 420.9Z"/>
<path fill="#af1cbc" d="M77.6 426.0L77.6 423.7L78.8 423.7L76.8 421.4L74.8 423.7L75.9 423.7L75.9 426.0Z"/>
<path fill="#9718ba" d="M82.6 426.0L82.6 423.7L83.8 423.7L81.8 421.4L79.8 423.7L80.9 423.7L80.9 426.0Z"/>
<path fill="#8918c1" d="M87.6 426.0L87.6 423.7L88.8 423.7L86.8 421.4L84.8 423.7L86.0 423.7L86.0 426.0Z"/>
<path fill="#7319c8" d="M92.7 426.0L92.7 423.7L93.8 423.7L91.8 421.4L89.8 423.7L91.0 423.7L91.0 426.0Z"/>
<path fill="#521bd0" d="M97.7 426.0L97.7 423.7L98.8 423.7L96.8 421.4L94.8 423.7L96.0 423.7L96.0 426.0Z"/>
<path fill="#3629d5" d="M100.5 426.0L102.8 423.9L103.4 424.6L103.8 421.9L101.1 422.1L101.7 422.7L99.4 424.8Z"/>
<path fill="#2131d2" d="M185.8 426.0L188.1 423.9L188.7 424.6L189.1 421.9L186.4 422.1L187.0 422.7L184.7 424.8Z"/>
<path fill="#1b1faa" d="M193.1 426.0L193.1 423.7L194.2 423.7L192.2 421.4L190.2 423.7L191.4 423.7L191.4 426.0Z"/>
<path fill="#3e1abe" d="M198.1 426.0L198.1 423.7L199.2 423.7L197.2 421.4L195.2 423.7L196.4 423.7L196.4 426.0Z"/>
<path fill="#6d19c9" d="M203.1 426.0L203.1 423.7L204.3 423.7L202.3 421.4L200.3 423.7L201.4 423.7L201.4 426.0Z"/>
<path fill="#a31bc1" d="M208.1 426.0L208.1 423.7L209.3 423.7L207.3 421.4L205.3 423.7L206.4 423.7L206.4 426.0Z"/>
<path fill="#b31cbd" d="M77.6 431.0L77.6 428.7L78.8 428.7L76.8 426.4L74.8 428.7L75.9 428.7L75.9 431.0Z"/>
<path fill="#9b18ba" d="M82.6 431.0L82.6 428.7L83.8 428.7L81.8 426.4L79.8 428.7L80.9 428.7L80.9 431.0Z"/>
<path fill="#8c18c0" d="M87.6 431.0L87.6 428.7L88.8 428.7L86.8 426.4L84.8 428.7L86.0 428.7L86.0 431.0Z"/>
<path fill="#7918c6" d="M92.7 431.0L92.7 428.7L93.8 428.7L91.8 426.4L89.8 428.7L91.0 428.7L91.0 431.0Z"/>
<path fill="#581acf" d="M97.7 431.0L97.7 428.7L98.8 428.7L96.8 426.4L94.8 428.7L96.0 428.7L96.0 431.0Z"/>
<path fill="#3b27d4" d="M102.7 431.0L102.7 428.7L103.9 428.7L101.9 426.4L99.9 428.7L101.0 428.7L101.0 431.0Z"/>
<path fill="#2233d6" d="M185.8 431.1L188.1 429.0L188.7 429.6L189.1 427.0L186.4 427.1L187.0 427.8L184.7 429.9Z"/>
<path fill="#1c21ae" d="M193.1 431.0L193.1 428.7L194.2 428.7L192.2 426.4L190.2 428.7L191.4 428.7L191.4 431.0Z"/>
<path fill="#391aba" d="M198.1 431.0L198.1 428.7L199.2 428.7L197.2 426.4L195.2 428.7L196.4 428.7L196.4 431.0Z"/>
<path fill="#6919cb" d="M203.1 431.0L203.1 428.7L204.3 428.7L202.3 426.4L200.3 428.7L201.4 428.7L201.4 431.0Z"/>
<path fill="#9d1bc1" d="M208.1 431.0L208.1 428.7L209.3 428.7L207.3 426.4L205.3 428.7L206.4 428.7L206.4 431.0Z"/>
<path fill="#b71dbd" d="M79.2 434.2L77.2 433.1L77.8 432.1L74.8 432.6L75.8 435.5L76.3 434.5L78.3 435.7Z"/>
<path fill="#9f19bb" d="M82.6 436.1L82.6 433.8L83.8 433.8L81.8 431.5L79.8 433.8L80.9 433.8L80.9 436.1Z"/>
<path fill="#7f18c5" d="M92.7 436.1L92.7 433.8L93.8 433.8L91.8 431.5L89.8 433.8L91.0 433.8L91.0 436.1Z"/>
<path fill="#5e1acd" d="M97.7 436.1L97.7 433.8L98.8 433.8L96.8 431.5L94.8 433.8L96.0 433.8L96.0 436.1Z"/>
<path fill="#4024d3" d="M102.7 436.1L102.7 433.8L103.9 433.8L101.9 431.5L99.9 433.8L101.0 433.8L101.0 436.1Z"/>
<path fill="#2433d8" d="M105.5 436.1L107.8 434.0L108.4 434.7L108.8 432.1L106.1 432.2L106.7 432.9L104.4 434.9Z"/>
<path fill="#1d22b2" d="M193.1 436.1L193.1 433.8L194.2 433.8L192.2 431.5L190.2 433.8L191.4 433.8L191.4 436.1Z"/>
<path fill="#341ab6" d="M198.1 436.1L198.1 433.8L199.2 433.8L197.2 431.5L195.2 433.8L196.4 433.8L196.4 436.1Z"/>
<path fill="#6419cc" d="M203.1 436.1L203.1 433.8L204.3 433.8L202.3 431.5L200.3 433.8L201.4 433.8L201.4 436.1ZM97.7 441.2L97.7 438.9L98.8 438.9L96.8 436.6L94.8 438.9L96.0 438.9L96.0 441.2Z"/>
<path fill="#971ac2" d="M208.1 436.1L208.1 433.8L209.3 433.8L207.3 431.5L205.3 433.8L206.4 433.8L206.4 436.1Z"/>
<path fill="#bb1ebe" d="M79.2 439.3L77.2 438.1L77.8 437.1L74.8 437.7L75.8 440.6L76.3 439.6L78.3 440.7Z"/>
<path fill="#a31abb" d="M82.6 441.2L82.6 438.9L83.8 438.9L81.8 436.6L79.8 438.9L80.9 438.9L80.9 441.2Z"/>
<path fill="#9118bd" d="M87.6 441.2L87.6 438.9L88.8 438.9L86.8 436.6L84.8 438.9L86.0 438.9L86.0 441.2Z"/>
<path fill="#8318c4" d="M92.7 441.2L92.7 438.9L93.8 438.9L91.8 436.6L89.8 438.9L91.0 438.9L91.0 441.2Z"/>
<path fill="#4522d2" d="M102.7 441.2L102.7 438.9L103.9 438.9L101.9 436.6L99.9 438.9L101.0 438.9L101.0 441.2Z"/>
<path fill="#2930d7" d="M105.5 441.2L107.8 439.1L108.4 439.8L108.8 437.1L106.1 437.3L106.7 437.9L104.4 440.0Z"/>
<path fill="#1d24b6" d="M193.1 441.2L193.1 438.9L194.2 438.9L192.2 436.6L190.2 438.9L191.4 438.9L191.4 441.2Z"/>
<path fill="#301ab2" d="M198.1 441.2L198.1 438.9L199.2 438.9L197.2 436.6L195.2 438.9L196.4 438.9L196.4 441.2Z"/>
<path fill="#6019cd" d="M203.1 441.2L203.1 438.9L204.3 438.9L202.3 436.6L200.3 438.9L201.4 438.9L201.4 441.2Z"/>
<path fill="#911ac2" d="M208.1 441.2L208.1 438.9L209.3 438.9L207.3 436.6L205.3 438.9L206.4 438.9L206.4 441.2Z"/>
<path fill="#ad1998" d="M82.6 446.2L82.6 443.9L83.8 443.9L81.8 441.6L79.8 443.9L80.9 443.9L80.9 446.2Z"/>
<path fill="#9718b1" d="M87.6 446.2L87.6 443.9L88.8 443.9L86.8 441.6L84.8 443.9L86.0 443.9L86.0 446.2Z"/>
<path fill="#8618c2" d="M92.7 446.2L92.7 443.9L93.8 443.9L91.8 441.6L89.8 443.9L91.0 443.9L91.0 446.2Z"/>
<path fill="#6919ca" d="M97.7 446.2L97.7 443.9L98.8 443.9L96.8 441.6L94.8 443.9L96.0 443.9L96.0 446.2Z"/>
<path fill="#4335d9" d="M102.7 446.2L102.7 443.9L103.9 443.9L101.9 441.6L99.9 443.9L101.0 443.9L101.0 446.2Z"/>
<path fill="#2f52e2" d="M105.5 446.3L107.8 444.2L108.4 444.9L108.8 442.2L106.1 442.3L106.7 443.0L104.4 445.1Z"/>
<path fill="#243dca" d="M193.1 446.2L193.1 443.9L194.2 443.9L192.2 441.6L190.2 443.9L191.4 443.9L191.4 446.2Z"/>
<path fill="#2b1aae" d="M198.1 446.2L198.1 443.9L199.2 443.9L197.2 441.6L195.2 443.9L196.4 443.9L196.4 446.2Z"/>
<path fill="#5b1ace" d="M203.1 446.2L203.1 443.9L204.3 443.9L202.3 441.6L200.3 443.9L201.4 443.9L201.4 446.2Z"/>
<path fill="#9618a6" d="M208.1 446.2L208.1 443.9L209.3 443.9L207.3 441.6L205.3 443.9L206.4 443.9L206.4 446.2Z"/>
<path fill="#b41771" d="M82.6 451.3L82.6 449.0L83.8 449.0L81.8 446.7L79.8 449.0L80.9 449.0L80.9 451.3Z"/>
<path fill="#9e179e" d="M87.6 451.3L87.6 449.0L88.8 449.0L86.8 446.7L84.8 449.0L86.0 449.0L86.0 451.3Z"/>
<path fill="#8818c1" d="M92.7 451.3L92.7 449.0L93.8 449.0L91.8 446.7L89.8 449.0L91.0 449.0L91.0 451.3Z"/>
<path fill="#6f19c9" d="M97.7 451.3L97.7 449.0L98.8 449.0L96.8 446.7L94.8 449.0L96.0 449.0L96.0 451.3Z"/>
<path fill="#4b4add" d="M102.7 451.3L102.7 449.0L103.9 449.0L101.9 446.7L99.9 449.0L101.0 449.0L101.0 451.3Z"/>
<path fill="#3f89ee" d="M105.5 451.3L107.8 449.3L108.4 449.9L108.8 447.3L106.1 447.4L106.7 448.1L104.4 450.1Z"/>
<path fill="#991793" d="M208.1 451.3L208.1 449.0L209.3 449.0L207.3 446.7L205.3 449.0L206.4 449.0L206.4 451.3Z"/>
<path fill="#c420ca" d="M302.7 400.7L302.7 398.4L303.8 398.4L301.8 396.1L299.8 398.4L300.9 398.4L300.9 400.7ZM308.2 400.7L308.2 398.4L309.4 398.4L307.4 396.1L305.4 398.4L306.5 398.4L306.5 400.7ZM313.8 400.7L313.8 398.4L314.9 398.4L312.9 396.1L310.9 398.4L312.1 398.4L312.1 400.7ZM502.2 400.7L502.2 398.4L503.4 398.4L501.4 396.1L499.4 398.4L500.5 398.4L500.5 400.7ZM507.2 400.7L507.2 398.4L508.4 398.4L506.4 396.1L504.4 398.4L505.5 398.4L505.5 400.7ZM512.2 400.7L512.2 398.4L513.4 398.4L511.4 396.1L509.4 398.4L510.5 398.4L510.5 400.7ZM517.2 400.7L517.2 398.4L518.4 398.4L516.4 396.1L514.4 398.4L515.5 398.4L515.5 400.7ZM302.7 405.9L302.7 403.6L303.8 403.6L301.8 401.3L299.8 403.6L300.9 403.6L300.9 405.9ZM308.2 405.9L308.2 403.6L309.4 403.6L307.4 401.3L305.4 403.6L306.5 403.6L306.5 405.9ZM313.8 405.9L313.8 403.6L314.9 403.6L312.9 401.3L310.9 403.6L312.1 403.6L312.1 405.9ZM502.2 405.9L502.2 403.6L503.4 403.6L501.4 401.3L499.4 403.6L500.5 403.6L500.5 405.9ZM507.2 405.9L507.2 403.6L508.4 403.6L506.4 401.3L504.4 403.6L505.5 403.6L505.5 405.9ZM512.2 405.9L512.2 403.6L513.4 403.6L511.4 401.3L509.4 403.6L510.5 403.6L510.5 405.9ZM517.2 405.9L517.2 403.6L518.4 403.6L516.4 401.3L514.4 403.6L515.5 403.6L515.5 405.9ZM302.7 411.1L302.7 408.8L303.8 408.8L301.8 406.5L299.8 408.8L300.9 408.8L300.9 411.1ZM308.2 411.1L308.2 408.8L309.4 408.8L307.4 406.5L305.4 408.8L306.5 408.8L306.5 411.1ZM313.8 411.1L313.8 408.8L314.9 408.8L312.9 406.5L310.9 408.8L312.1 408.8L312.1 411.1ZM502.2 411.1L502.2 408.8L503.4 408.8L501.4 406.5L499.4 408.8L500.5 408.8L500.5 411.1ZM507.2 411.1L507.2 408.8L508.4 408.8L506.4 406.5L504.4 408.8L505.5 408.8L505.5 411.1ZM512.2 411.1L512.2 408.8L513.4 408.8L511.4 406.5L509.4 408.8L510.5 408.8L510.5 411.1ZM517.2 411.1L517.2 408.8L518.4 408.8L516.4 406.5L514.4 408.8L515.5 408.8L515.5 411.1ZM302.7 416.3L302.7 414.0L303.8 414.0L301.8 411.7L299.8 414.0L300.9 414.0L300.9 416.3ZM308.2 416.3L308.2 414.0L309.4 414.0L307.4 411.7L305.4 414.0L306.5 414.0L306.5 416.3ZM313.8 416.3L313.8 414.0L314.9 414.0L312.9 411.7L310.9 414.0L312.1 414.0L312.1 416.3ZM502.2 416.3L502.2 414.0L503.4 414.0L501.4 411.7L499.4 414.0L500.5 414.0L500.5 416.3ZM507.2 416.3L507.2 414.0L508.4 414.0L506.4 411.7L504.4 414.0L505.5 414.0L505.5 416.3ZM512.2 416.3L512.2 414.0L513.4 414.0L511.4 411.7L509.4 414.0L510.5 414.0L510.5 416.3ZM517.2 416.3L517.2 414.0L518.4 414.0L516.4 411.7L514.4 414.0L515.5 414.0L515.5 416.3ZM302.7 421.5L302.7 419.2L303.8 419.2L301.8 416.9L299.8 419.2L300.9 419.2L300.9 421.5ZM308.2 421.5L308.2 419.2L309.4 419.2L307.4 416.9L305.4 419.2L306.5 419.2L306.5 421.5ZM313.8 421.5L313.8 419.2L314.9 419.2L312.9 416.9L310.9 419.2L312.1 419.2L312.1 421.5ZM502.2 421.5L502.2 419.2L503.4 419.2L501.4 416.9L499.4 419.2L500.5 419.2L500.5 421.5ZM507.2 421.5L507.2 419.2L508.4 419.2L506.4 416.9L504.4 419.2L505.5 419.2L505.5 421.5ZM512.2 421.5L512.2 419.2L513.4 419.2L511.4 416.9L509.4 419.2L510.5 419.2L510.5 421.5ZM517.2 421.5L517.2 419.2L518.4 419.2L516.4 416.9L514.4 419.2L515.5 419.2L515.5 421.5ZM302.7 426.8L302.7 424.4L303.8 424.4L301.8 422.1L299.8 424.4L300.9 424.4L300.9 426.8ZM308.2 426.8L308.2 424.4L309.4 424.4L307.4 422.1L305.4 424.4L306.5 424.4L306.5 426.8ZM313.8 426.8L313.8 424.4L314.9 424.4L312.9 422.1L310.9 424.4L312.1 424.4L312.1 426.8ZM502.2 426.8L502.2 424.4L503.4 424.4L501.4 422.1L499.4 424.4L500.5 424.4L500.5 426.8ZM507.2 426.8L507.2 424.4L508.4 424.4L506.4 422.1L504.4 424.4L505.5 424.4L505.5 426.8ZM512.2 426.8L512.2 424.4L513.4 424.4L511.4 422.1L509.4 424.4L510.5 424.4L510.5 426.8ZM517.2 426.8L517.2 424.4L518.4 424.4L516.4 422.1L514.4 424.4L515.5 424.4L515.5 426.8ZM302.7 432.0L302.7 429.7L303.8 429.7L301.8 427.4L299.8 429.7L300.9 429.7L300.9 432.0ZM308.2 432.0L308.2 429.7L309.4 429.7L307.4 427.4L305.4 429.7L306.5 429.7L306.5 432.0ZM313.8 432.0L313.8 429.7L314.9 429.7L312.9 427.4L310.9 429.7L312.1 429.7L312.1 432.0ZM502.2 432.0L502.2 429.7L503.4 429.7L501.4 427.4L499.4 429.7L500.5 429.7L500.5 432.0ZM507.2 432.0L507.2 429.7L508.4 429.7L506.4 427.4L504.4 429.7L505.5 429.7L505.5 432.0ZM512.2 432.0L512.2 429.7L513.4 429.7L511.4 427.4L509.4 429.7L510.5 429.7L510.5 432.0ZM517.2 432.0L517.2 429.7L518.4 429.7L516.4 427.4L514.4 429.7L515.5 429.7L515.5 432.0ZM302.7 437.2L302.7 434.9L303.8 434.9L301.8 432.6L299.8 434.9L300.9 434.9L300.9 437.2ZM308.2 437.2L308.2 434.9L309.4 434.9L307.4 432.6L305.4 434.9L306.5 434.9L306.5 437.2ZM313.8 437.2L313.8 434.9L314.9 434.9L312.9 432.6L310.9 434.9L312.1 434.9L312.1 437.2ZM502.2 437.2L502.2 434.9L503.4 434.9L501.4 432.6L499.4 434.9L500.5 434.9L500.5 437.2ZM507.2 437.2L507.2 434.9L508.4 434.9L506.4 432.6L504.4 434.9L505.5 434.9L505.5 437.2ZM512.2 437.2L512.2 434.9L513.4 434.9L511.4 432.6L509.4 434.9L510.5 434.9L510.5 437.2ZM517.2 437.2L517.2 434.9L518.4 434.9L516.4 432.6L514.4 434.9L515.5 434.9L515.5 437.2ZM302.7 442.4L302.7 440.1L303.8 440.1L301.8 437.8L299.8 440.1L300.9 440.1L300.9 442.4ZM308.2 442.4L308.2 440.1L309.4 440.1L307.4 437.8L305.4 440.1L306.5 440.1L306.5 442.4ZM313.8 442.4L313.8 440.1L314.9 440.1L312.9 437.8L310.9 440.1L312.1 440.1L312.1 442.4ZM502.2 442.4L502.2 440.1L503.4 440.1L501.4 437.8L499.4 440.1L500.5 440.1L500.5 442.4ZM507.2 442.4L507.2 440.1L508.4 440.1L506.4 437.8L504.4 440.1L505.5 440.1L505.5 442.4ZM512.2 442.4L512.2 440.1L513.4 440.1L511.4 437.8L509.4 440.1L510.5 440.1L510.5 442.4ZM517.2 442.4L517.2 440.1L518.4 440.1L516.4 437.8L514.4 440.1L515.5 440.1L515.5 442.4ZM502.2 447.6L502.2 445.3L503.4 445.3L501.4 443.0L499.4 445.3L500.5 445.3L500.5 447.6ZM507.2 447.6L507.2 445.3L508.4 445.3L506.4 443.0L504.4 445.3L505.5 445.3L505.5 447.6ZM512.2 447.6L512.2 445.3L513.4 445.3L511.4 443.0L509.4 445.3L510.5 445.3L510.5 447.6ZM517.2 447.6L517.2 445.3L518.4 445.3L516.4 443.0L514.4 445.3L515.5 445.3L515.5 447.6ZM502.2 452.8L502.2 450.5L503.4 450.5L501.4 448.2L499.4 450.5L500.5 450.5L500.5 452.8ZM507.2 452.8L507.2 450.5L508.4 450.5L506.4 448.2L504.4 450.5L505.5 450.5L505.5 452.8ZM512.2 452.8L512.2 450.5L513.4 450.5L511.4 448.2L509.4 450.5L510.5 450.5L510.5 452.8ZM517.2 452.8L517.2 450.5L518.4 450.5L516.4 448.2L514.4 450.5L515.5 450.5L515.5 452.8Z"/>
<path fill="#bf1fca" d="M319.3 400.7L319.3 398.4L320.4 398.4L318.4 396.1L316.4 398.4L317.6 398.4L317.6 400.7ZM319.3 405.9L319.3 403.6L320.4 403.6L318.4 401.3L316.4 403.6L317.6 403.6L317.6 405.9ZM319.3 411.1L319.3 408.8L320.4 408.8L318.4 406.5L316.4 408.8L317.6 408.8L317.6 411.1ZM319.3 416.3L319.3 414.0L320.4 414.0L318.4 411.7L316.4 414.0L317.6 414.0L317.6 416.3ZM319.3 421.5L319.3 419.2L320.4 419.2L318.4 416.9L316.4 419.2L317.6 419.2L317.6 421.5ZM319.3 426.8L319.3 424.4L320.4 424.4L318.4 422.1L316.4 424.4L317.6 424.4L317.6 426.8ZM319.3 432.0L319.3 429.7L320.4 429.7L318.4 427.4L316.4 429.7L317.6 429.7L317.6 432.0ZM319.3 437.2L319.3 434.9L320.4 434.9L318.4 432.6L316.4 434.9L317.6 434.9L317.6 437.2ZM319.3 442.4L319.3 440.1L320.4 440.1L318.4 437.8L316.4 440.1L317.6 440.1L317.6 442.4Z"/>
<path fill="#7e1cce" d="M324.9 400.7L324.9 398.4L326.0 398.4L324.0 396.1L322.0 398.4L323.1 398.4L323.1 400.7ZM324.9 405.9L324.9 403.6L326.0 403.6L324.0 401.3L322.0 403.6L323.1 403.6L323.1 405.9ZM324.9 411.1L324.9 408.8L326.0 408.8L324.0 406.5L322.0 408.8L323.1 408.8L323.1 411.1ZM324.9 416.3L324.9 414.0L326.0 414.0L324.0 411.7L322.0 414.0L323.1 414.0L323.1 416.3ZM324.9 421.5L324.9 419.2L326.0 419.2L324.0 416.9L322.0 419.2L323.1 419.2L323.1 421.5ZM324.9 426.8L324.9 424.4L326.0 424.4L324.0 422.1L322.0 424.4L323.1 424.4L323.1 426.8ZM324.9 432.0L324.9 429.7L326.0 429.7L324.0 427.4L322.0 429.7L323.1 429.7L323.1 432.0ZM324.9 437.2L324.9 434.9L326.0 434.9L324.0 432.6L322.0 434.9L323.1 434.9L323.1 437.2ZM324.9 442.4L324.9 440.1L326.0 440.1L324.0 437.8L322.0 440.1L323.1 440.1L323.1 442.4ZM324.9 447.6L324.9 445.3L326.0 445.3L324.0 443.0L322.0 445.3L323.1 445.3L323.1 447.6ZM324.9 452.8L324.9 450.5L326.0 450.5L324.0 448.2L322.0 450.5L323.1 450.5L323.1 452.8Z"/>
<path fill="#4026d6" d="M330.4 400.7L330.4 398.4L331.6 398.4L329.6 396.1L327.6 398.4L328.7 398.4L328.7 400.7Z"/>
<path fill="#215bdd" d="M333.5 400.3L335.5 399.1L336.1 400.1L337.1 397.2L334.1 396.7L334.7 397.7L332.7 398.8Z"/>
<path fill="#26a3dc" d="M339.1 400.3L341.1 399.1L341.7 400.1L342.6 397.2L339.7 396.7L340.2 397.7L338.2 398.8Z"/>
<path fill="#28bed8" d="M344.8 402.3L346.8 401.1L347.4 402.1L348.4 399.2L345.4 398.7L346.0 399.7L344.0 400.8ZM344.8 407.4L346.8 406.2L347.4 407.2L348.4 404.3L345.4 403.8L346.0 404.8L344.0 405.9ZM344.8 412.5L346.8 411.3L347.4 412.3L348.4 409.4L345.4 408.8L346.0 409.8L344.0 411.0ZM344.8 417.6L346.8 416.4L347.4 417.4L348.4 414.5L345.4 413.9L346.0 414.9L344.0 416.1ZM344.8 422.6L346.8 421.5L347.4 422.5L348.4 419.6L345.4 419.0L346.0 420.0L344.0 421.2ZM344.8 427.7L346.8 426.6L347.4 427.6L348.4 424.7L345.4 424.1L346.0 425.1L344.0 426.3ZM349.8 427.7L351.8 426.6L352.4 427.6L353.4 424.7L350.4 424.1L351.0 425.1L349.0 426.3ZM344.8 432.8L346.8 431.7L347.4 432.7L348.4 429.8L345.4 429.2L346.0 430.2L344.0 431.4ZM349.8 432.8L351.8 431.7L352.4 432.7L353.4 429.8L350.4 429.2L351.0 430.2L349.0 431.4ZM344.8 437.9L346.8 436.8L347.4 437.8L348.4 434.9L345.4 434.3L346.0 435.3L344.0 436.4ZM349.8 437.9L351.8 436.8L352.4 437.8L353.4 434.9L350.4 434.3L351.0 435.3L349.0 436.4ZM349.8 443.0L351.8 441.9L352.4 442.9L353.4 440.0L350.4 439.4L351.0 440.4L349.0 441.5ZM349.8 448.1L351.8 446.9L352.4 447.9L353.4 445.1L350.4 444.5L351.0 445.5L349.0 446.6ZM349.8 453.2L351.8 452.0L352.4 453.0L353.4 450.2L350.4 449.6L351.0 450.6L349.0 451.7Z"/>
<path fill="#2fd4b9" d="M349.8 402.3L351.8 401.1L352.4 402.1L353.4 399.2L350.4 398.7L351.0 399.7L349.0 400.8Z"/>
<path fill="#44e17a" d="M356.8 404.6L357.2 402.3L358.4 402.5L356.8 399.9L354.4 401.9L355.6 402.1L355.2 404.3Z"/>
<path fill="#98e853" d="M361.8 404.6L362.2 402.3L363.4 402.5L361.8 399.9L359.4 401.9L360.6 402.1L360.2 404.3Z"/>
<path fill="#a8ea4f" d="M366.8 404.6L367.2 402.3L368.4 402.5L366.8 399.9L364.4 401.9L365.6 402.1L365.2 404.3ZM371.8 414.6L372.2 412.3L373.4 412.5L371.8 409.9L369.4 411.8L370.6 412.0L370.2 414.3Z"/>
<path fill="#bcec50" d="M371.8 404.6L372.2 402.3L373.4 402.5L371.8 399.9L369.4 401.9L370.6 402.1L370.2 404.3Z"/>
<path fill="#c3ed51" d="M376.8 404.6L377.2 402.3L378.4 402.5L376.8 399.9L374.4 401.9L375.6 402.1L375.2 404.3Z"/>
<path fill="#c9ed53" d="M381.8 404.6L382.2 402.3L383.4 402.5L381.8 399.9L379.4 401.9L380.6 402.1L380.2 404.3ZM376.8 409.6L377.2 407.3L378.4 407.5L376.8 404.9L374.4 406.8L375.6 407.0L375.2 409.3ZM381.8 444.5L382.2 442.2L383.4 442.4L381.8 439.8L379.4 441.7L380.6 441.9L380.2 444.2Z"/>
<path fill="#cfee54" d="M386.8 404.6L387.2 402.3L388.4 402.5L386.8 399.9L384.4 401.9L385.6 402.1L385.2 404.3Z"/>
<path fill="#d1ee55" d="M391.8 404.6L392.2 402.3L393.4 402.5L391.8 399.9L389.4 401.9L390.6 402.1L390.2 404.3ZM396.8 404.6L397.2 402.3L398.4 402.5L396.8 399.9L394.4 401.9L395.6 402.1L395.2 404.3ZM401.8 404.6L402.2 402.3L403.4 402.5L401.8 399.9L399.4 401.9L400.6 402.1L400.2 404.3ZM406.8 404.6L407.2 402.3L408.4 402.5L406.8 399.9L404.4 401.9L405.6 402.1L405.2 404.3ZM411.8 404.6L412.2 402.3L413.4 402.5L411.8 399.9L409.4 401.9L410.6 402.1L410.2 404.3ZM416.8 404.6L417.2 402.3L418.4 402.5L416.8 399.9L414.4 401.9L415.6 402.1L415.2 404.3ZM421.8 404.6L422.2 402.3L423.4 402.5L421.8 399.9L419.4 401.9L420.6 402.1L420.2 404.3ZM426.8 404.6L427.2 402.3L428.4 402.5L426.8 399.9L424.4 401.9L425.6 402.1L425.2 404.3ZM431.8 404.6L432.2 402.3L433.4 402.5L431.8 399.9L429.4 401.9L430.6 402.1L430.2 404.3ZM436.8 404.6L437.2 402.3L438.4 402.5L436.8 399.9L434.4 401.9L435.6 402.1L435.2 404.3ZM441.8 404.6L442.2 402.3L443.4 402.5L441.8 399.9L439.4 401.9L440.6 402.1L440.2 404.3ZM446.8 404.6L447.2 402.3L448.4 402.5L446.8 399.9L444.4 401.9L445.6 402.1L445.2 404.3ZM381.8 429.5L382.2 427.3L383.4 427.5L381.8 424.8L379.4 426.8L380.6 427.0L380.2 429.2ZM451.8 449.5L452.2 447.2L453.4 447.4L451.8 444.8L449.4 446.7L450.6 446.9L450.2 449.2Z"/>
<path fill="#c8ed52" d="M451.8 404.6L452.2 402.3L453.4 402.5L451.8 399.9L449.4 401.9L450.6 402.1L450.2 404.3Z"/>
<path fill="#b8eb50" d="M456.8 404.6L457.2 402.3L458.4 402.5L456.8 399.9L454.4 401.9L455.6 402.1L455.2 404.3Z"/>
<path fill="#a1e94f" d="M461.8 404.6L462.2 402.3L463.4 402.5L461.8 399.9L459.4 401.9L460.6 402.1L460.2 404.3Z"/>
<path fill="#94e855" d="M466.8 404.6L467.2 402.3L468.4 402.5L466.8 399.9L464.4 401.9L465.6 402.1L465.2 404.3Z"/>
<path fill="#3de08c" d="M469.8 404.1L471.8 402.9L472.4 403.9L473.4 401.1L470.4 400.5L471.0 401.5L469.0 402.6Z"/>
<path fill="#2dcfc0" d="M474.8 402.3L476.8 401.1L477.4 402.1L478.4 399.2L475.4 398.7L476.0 399.7L474.0 400.8ZM349.8 407.4L351.8 406.2L352.4 407.2L353.4 404.3L350.4 403.8L351.0 404.8L349.0 405.9Z"/>
<path fill="#259cdd" d="M479.8 400.3L481.8 399.1L482.4 400.1L483.4 397.2L480.4 396.7L481.0 397.7L479.0 398.8Z"/>
<path fill="#1e4bc2" d="M484.8 400.3L486.8 399.1L487.4 400.1L488.4 397.2L485.4 396.7L486.0 397.7L484.0 398.8Z"/>
<path fill="#4f1ab5" d="M492.2 400.7L492.2 398.4L493.4 398.4L491.4 396.1L489.4 398.4L490.5 398.4L490.5 400.7Z"/>
<path fill="#a51dcb" d="M497.2 400.7L497.2 398.4L498.4 398.4L496.4 396.1L494.4 398.4L495.5 398.4L495.5 400.7Z"/>
<path fill="#4126d6" d="M330.4 405.9L330.4 403.6L331.6 403.6L329.6 401.3L327.6 403.6L328.7 403.6L328.7 405.9ZM330.4 411.1L330.4 408.8L331.6 408.8L329.6 406.5L327.6 408.8L328.7 408.8L328.7 411.1Z"/>
<path fill="#2157dd" d="M333.5 405.5L335.5 404.3L336.1 405.3L337.1 402.5L334.1 401.9L334.7 402.9L332.7 404.0Z"/>
<path fill="#259edd" d="M339.1 405.5L341.1 404.3L341.7 405.3L342.6 402.5L339.7 401.9L340.2 402.9L338.2 404.0Z"/>
<path fill="#40e086" d="M354.8 409.1L356.8 407.9L357.4 408.9L358.4 406.0L355.4 405.4L356.0 406.4L354.0 407.6Z"/>
<path fill="#5be35a" d="M361.8 409.6L362.2 407.3L363.4 407.5L361.8 404.9L359.4 406.8L360.6 407.0L360.2 409.3Z"/>
<path fill="#7ee64d" d="M366.8 409.6L367.2 407.3L368.4 407.5L366.8 404.9L364.4 406.8L365.6 407.0L365.2 409.3Z"/>
<path fill="#b0eb4f" d="M371.8 409.6L372.2 407.3L373.4 407.5L371.8 404.9L369.4 406.8L370.6 407.0L370.2 409.3Z"/>
<path fill="#d8ef57" d="M381.8 409.6L382.2 407.3L383.4 407.5L381.8 404.9L379.4 406.8L380.6 407.0L380.2 409.3Z"/>
<path fill="#e8f15a" d="M386.8 409.6L387.2 407.3L388.4 407.5L386.8 404.9L384.4 406.8L385.6 407.0L385.2 409.3Z"/>
<path fill="#eef25c" d="M391.8 409.6L392.2 407.3L393.4 407.5L391.8 404.9L389.4 406.8L390.6 407.0L390.2 409.3ZM396.8 409.6L397.2 407.3L398.4 407.5L396.8 404.9L394.4 406.8L395.6 407.0L395.2 409.3ZM401.8 409.6L402.2 407.3L403.4 407.5L401.8 404.9L399.4 406.8L400.6 407.0L400.2 409.3ZM406.8 409.6L407.2 407.3L408.4 407.5L406.8 404.9L404.4 406.8L405.6 407.0L405.2 409.3ZM411.8 409.6L412.2 407.3L413.4 407.5L411.8 404.9L409.4 406.8L410.6 407.0L410.2 409.3ZM416.8 409.6L417.2 407.3L418.4 407.5L416.8 404.9L414.4 406.8L415.6 407.0L415.2 409.3ZM421.8 409.6L422.2 407.3L423.4 407.5L421.8 404.9L419.4 406.8L420.6 407.0L420.2 409.3ZM426.8 409.6L427.2 407.3L428.4 407.5L426.8 404.9L424.4 406.8L425.6 407.0L425.2 409.3ZM431.8 409.6L432.2 407.3L433.4 407.5L431.8 404.9L429.4 406.8L430.6 407.0L430.2 409.3ZM436.8 409.6L437.2 407.3L438.4 407.5L436.8 404.9L434.4 406.8L435.6 407.0L435.2 409.3ZM441.8 409.6L442.2 407.3L443.4 407.5L441.8 404.9L439.4 406.8L440.6 407.0L440.2 409.3ZM446.8 409.6L447.2 407.3L448.4 407.5L446.8 404.9L444.4 406.8L445.6 407.0L445.2 409.3ZM391.8 414.6L392.2 412.3L393.4 412.5L391.8 409.9L389.4 411.8L390.6 412.0L390.2 414.3ZM396.8 414.6L397.2 412.3L398.4 412.5L396.8 409.9L394.4 411.8L395.6 412.0L395.2 414.3ZM401.8 414.6L402.2 412.3L403.4 412.5L401.8 409.9L399.4 411.8L400.6 412.0L400.2 414.3ZM406.8 414.6L407.2 412.3L408.4 412.5L406.8 409.9L404.4 411.8L405.6 412.0L405.2 414.3ZM411.8 414.6L412.2 412.3L413.4 412.5L411.8 409.9L409.4 411.8L410.6 412.0L410.2 414.3ZM416.8 414.6L417.2 412.3L418.4 412.5L416.8 409.9L414.4 411.8L415.6 412.0L415.2 414.3ZM421.8 414.6L422.2 412.3L423.4 412.5L421.8 409.9L419.4 411.8L420.6 412.0L420.2 414.3ZM426.8 414.6L427.2 412.3L428.4 412.5L426.8 409.9L424.4 411.8L425.6 412.0L425.2 414.3ZM431.8 414.6L432.2 412.3L433.4 412.5L431.8 409.9L429.4 411.8L430.6 412.0L430.2 414.3ZM436.8 414.6L437.2 412.3L438.4 412.5L436.8 409.9L434.4 411.8L435.6 412.0L435.2 414.3ZM441.8 414.6L442.2 412.3L443.4 412.5L441.8 409.9L439.4 411.8L440.6 412.0L440.2 414.3ZM446.8 414.6L447.2 412.3L448.4 412.5L446.8 409.9L444.4 411.8L445.6 412.0L445.2 414.3ZM391.8 419.6L392.2 417.3L393.4 417.5L391.8 414.9L389.4 416.8L390.6 417.0L390.2 419.3ZM396.8 419.6L397.2 417.3L398.4 417.5L396.8 414.9L394.4 416.8L395.6 417.0L395.2 419.3ZM401.8 419.6L402.2 417.3L403.4 417.5L401.8 414.9L399.4 416.8L400.6 417.0L400.2 419.3ZM406.8 419.6L407.2 417.3L408.4 417.5L406.8 414.9L404.4 416.8L405.6 417.0L405.2 419.3ZM411.8 419.6L412.2 417.3L413.4 417.5L411.8 414.9L409.4 416.8L410.6 417.0L410.2 419.3ZM416.8 419.6L417.2 417.3L418.4 417.5L416.8 414.9L414.4 416.8L415.6 417.0L415.2 419.3ZM421.8 419.6L422.2 417.3L423.4 417.5L421.8 414.9L419.4 416.8L420.6 417.0L420.2 419.3ZM426.8 419.6L427.2 417.3L428.4 417.5L426.8 414.9L424.4 416.8L425.6 417.0L425.2 419.3ZM431.8 419.6L432.2 417.3L433.4 417.5L431.8 414.9L429.4 416.8L430.6 417.0L430.2 419.3ZM436.8 419.6L437.2 417.3L438.4 417.5L436.8 414.9L434.4 416.8L435.6 417.0L435.2 419.3ZM441.8 419.6L442.2 417.3L443.4 417.5L441.8 414.9L439.4 416.8L440.6 417.0L440.2 419.3ZM446.8 419.6L447.2 417.3L448.4 417.5L446.8 414.9L444.4 416.8L445.6 417.0L445.2 419.3ZM391.8 424.5L392.2 422.3L393.4 422.5L391.8 419.9L389.4 421.8L390.6 422.0L390.2 424.2ZM396.8 424.5L397.2 422.3L398.4 422.5L396.8 419.9L394.4 421.8L395.6 422.0L395.2 424.2ZM401.8 424.5L402.2 422.3L403.4 422.5L401.8 419.9L399.4 421.8L400.6 422.0L400.2 424.2ZM406.8 424.5L407.2 422.3L408.4 422.5L406.8 419.9L404.4 421.8L405.6 422.0L405.2 424.2ZM411.8 424.5L412.2 422.3L413.4 422.5L411.8 419.9L409.4 421.8L410.6 422.0L410.2 424.2ZM416.8 424.5L417.2 422.3L418.4 422.5L416.8 419.9L414.4 421.8L415.6 422.0L415.2 424.2ZM421.8 424.5L422.2 422.3L423.4 422.5L421.8 419.9L419.4 421.8L420.6 422.0L420.2 424.2ZM426.8 424.5L427.2 422.3L428.4 422.5L426.8 419.9L424.4 421.8L425.6 422.0L425.2 424.2ZM431.8 424.5L432.2 422.3L433.4 422.5L431.8 419.9L429.4 421.8L430.6 422.0L430.2 424.2ZM436.8 424.5L437.2 422.3L438.4 422.5L436.8 419.9L434.4 421.8L435.6 422.0L435.2 424.2ZM441.8 424.5L442.2 422.3L443.4 422.5L441.8 419.9L439.4 421.8L440.6 422.0L440.2 424.2ZM446.8 424.5L447.2 422.3L448.4 422.5L446.8 419.9L444.4 421.8L445.6 422.0L445.2 424.2ZM391.8 429.5L392.2 427.3L393.4 427.5L391.8 424.8L389.4 426.8L390.6 427.0L390.2 429.2ZM396.8 429.5L397.2 427.3L398.4 427.5L396.8 424.8L394.4 426.8L395.6 427.0L395.2 429.2ZM401.8 429.5L402.2 427.3L403.4 427.5L401.8 424.8L399.4 426.8L400.6 427.0L400.2 429.2ZM406.8 429.5L407.2 427.3L408.4 427.5L406.8 424.8L404.4 426.8L405.6 427.0L405.2 429.2ZM411.8 429.5L412.2 427.3L413.4 427.5L411.8 424.8L409.4 426.8L410.6 427.0L410.2 429.2ZM416.8 429.5L417.2 427.3L418.4 427.5L416.8 424.8L414.4 426.8L415.6 427.0L415.2 429.2ZM421.8 429.5L422.2 427.3L423.4 427.5L421.8 424.8L419.4 426.8L420.6 427.0L420.2 429.2ZM426.8 429.5L427.2 427.3L428.4 427.5L426.8 424.8L424.4 426.8L425.6 427.0L425.2 429.2ZM431.8 429.5L432.2 427.3L433.4 427.5L431.8 424.8L429.4 426.8L430.6 427.0L430.2 429.2ZM436.8 429.5L437.2 427.3L438.4 427.5L436.8 424.8L434.4 426.8L435.6 427.0L435.2 429.2ZM441.8 429.5L442.2 427.3L443.4 427.5L441.8 424.8L439.4 426.8L440.6 427.0L440.2 429.2ZM446.8 429.5L447.2 427.3L448.4 427.5L446.8 424.8L444.4 426.8L445.6 427.0L445.2 429.2ZM391.8 434.5L392.2 432.2L393.4 432.4L391.8 429.8L389.4 431.7L390.6 431.9L390.2 434.2ZM396.8 434.5L397.2 432.2L398.4 432.4L396.8 429.8L394.4 431.7L395.6 431.9L395.2 434.2ZM401.8 434.5L402.2 432.2L403.4 432.4L401.8 429.8L399.4 431.7L400.6 431.9L400.2 434.2ZM406.8 434.5L407.2 432.2L408.4 432.4L406.8 429.8L404.4 431.7L405.6 431.9L405.2 434.2ZM411.8 434.5L412.2 432.2L413.4 432.4L411.8 429.8L409.4 431.7L410.6 431.9L410.2 434.2ZM416.8 434.5L417.2 432.2L418.4 432.4L416.8 429.8L414.4 431.7L415.6 431.9L415.2 434.2ZM421.8 434.5L422.2 432.2L423.4 432.4L421.8 429.8L419.4 431.7L420.6 431.9L420.2 434.2ZM426.8 434.5L427.2 432.2L428.4 432.4L426.8 429.8L424.4 431.7L425.6 431.9L425.2 434.2ZM431.8 434.5L432.2 432.2L433.4 432.4L431.8 429.8L429.4 431.7L430.6 431.9L430.2 434.2ZM436.8 434.5L437.2 432.2L438.4 432.4L436.8 429.8L434.4 431.7L435.6 431.9L435.2 434.2ZM441.8 434.5L442.2 432.2L443.4 432.4L441.8 429.8L439.4 431.7L440.6 431.9L440.2 434.2ZM446.8 434.5L447.2 432.2L448.4 432.4L446.8 429.8L444.4 431.7L445.6 431.9L445.2 434.2ZM391.8 439.5L392.2 437.2L393.4 437.4L391.8 434.8L389.4 436.7L390.6 436.9L390.2 439.2ZM396.8 439.5L397.2 437.2L398.4 437.4L396.8 434.8L394.4 436.7L395.6 436.9L395.2 439.2ZM401.8 439.5L402.2 437.2L403.4 437.4L401.8 434.8L399.4 436.7L400.6 436.9L400.2 439.2ZM406.8 439.5L407.2 437.2L408.4 437.4L406.8 434.8L404.4 436.7L405.6 436.9L405.2 439.2ZM411.8 439.5L412.2 437.2L413.4 437.4L411.8 434.8L409.4 436.7L410.6 436.9L410.2 439.2ZM416.8 439.5L417.2 437.2L418.4 437.4L416.8 434.8L414.4 436.7L415.6 436.9L415.2 439.2ZM421.8 439.5L422.2 437.2L423.4 437.4L421.8 434.8L419.4 436.7L420.6 436.9L420.2 439.2ZM426.8 439.5L427.2 437.2L428.4 437.4L426.8 434.8L424.4 436.7L425.6 436.9L425.2 439.2ZM431.8 439.5L432.2 437.2L433.4 437.4L431.8 434.8L429.4 436.7L430.6 436.9L430.2 439.2ZM436.8 439.5L437.2 437.2L438.4 437.4L436.8 434.8L434.4 436.7L435.6 436.9L435.2 439.2ZM441.8 439.5L442.2 437.2L443.4 437.4L441.8 434.8L439.4 436.7L440.6 436.9L440.2 439.2ZM446.8 439.5L447.2 437.2L448.4 437.4L446.8 434.8L444.4 436.7L445.6 436.9L445.2 439.2ZM391.8 444.5L392.2 442.2L393.4 442.4L391.8 439.8L389.4 441.7L390.6 441.9L390.2 444.2ZM396.8 444.5L397.2 442.2L398.4 442.4L396.8 439.8L394.4 441.7L395.6 441.9L395.2 444.2ZM401.8 444.5L402.2 442.2L403.4 442.4L401.8 439.8L399.4 441.7L400.6 441.9L400.2 444.2ZM406.8 444.5L407.2 442.2L408.4 442.4L406.8 439.8L404.4 441.7L405.6 441.9L405.2 444.2ZM411.8 444.5L412.2 442.2L413.4 442.4L411.8 439.8L409.4 441.7L410.6 441.9L410.2 444.2ZM416.8 444.5L417.2 442.2L418.4 442.4L416.8 439.8L414.4 441.7L415.6 441.9L415.2 444.2ZM421.8 444.5L422.2 442.2L423.4 442.4L421.8 439.8L419.4 441.7L420.6 441.9L420.2 444.2ZM426.8 444.5L427.2 442.2L428.4 442.4L426.8 439.8L424.4 441.7L425.6 441.9L425.2 444.2ZM431.8 444.5L432.2 442.2L433.4 442.4L431.8 439.8L429.4 441.7L430.6 441.9L430.2 444.2ZM436.8 444.5L437.2 442.2L438.4 442.4L436.8 439.8L434.4 441.7L435.6 441.9L435.2 444.2ZM441.8 444.5L442.2 442.2L443.4 442.4L441.8 439.8L439.4 441.7L440.6 441.9L440.2 444.2ZM446.8 444.5L447.2 442.2L448.4 442.4L446.8 439.8L444.4 441.7L445.6 441.9L445.2 444.2ZM396.8 449.5L397.2 447.2L398.4 447.4L396.8 444.8L394.4 446.7L395.6 446.9L395.2 449.2ZM401.8 449.5L402.2 447.2L403.4 447.4L401.8 444.8L399.4 446.7L400.6 446.9L400.2 449.2ZM406.8 449.5L407.2 447.2L408.4 447.4L406.8 444.8L404.4 446.7L405.6 446.9L405.2 449.2ZM411.8 449.5L412.2 447.2L413.4 447.4L411.8 444.8L409.4 446.7L410.6 446.9L410.2 449.2ZM416.8 449.5L417.2 447.2L418.4 447.4L416.8 444.8L414.4 446.7L415.6 446.9L415.2 449.2ZM421.8 449.5L422.2 447.2L423.4 447.4L421.8 444.8L419.4 446.7L420.6 446.9L420.2 449.2ZM426.8 449.5L427.2 447.2L428.4 447.4L426.8 444.8L424.4 446.7L425.6 446.9L425.2 449.2ZM431.8 449.5L432.2 447.2L433.4 447.4L431.8 444.8L429.4 446.7L430.6 446.9L430.2 449.2ZM436.8 449.5L437.2 447.2L438.4 447.4L436.8 444.8L434.4 446.7L435.6 446.9L435.2 449.2ZM441.8 449.5L442.2 447.2L443.4 447.4L441.8 444.8L439.4 446.7L440.6 446.9L440.2 449.2ZM446.8 449.5L447.2 447.2L448.4 447.4L446.8 444.8L444.4 446.7L445.6 446.9L445.2 449.2ZM396.8 454.4L397.2 452.2L398.4 452.4L396.8 449.8L394.4 451.7L395.6 451.9L395.2 454.1ZM401.8 454.4L402.2 452.2L403.4 452.4L401.8 449.8L399.4 451.7L400.6 451.9L400.2 454.1ZM406.8 454.4L407.2 452.2L408.4 452.4L406.8 449.8L404.4 451.7L405.6 451.9L405.2 454.1ZM411.8 454.4L412.2 452.2L413.4 452.4L411.8 449.8L409.4 451.7L410.6 451.9L410.2 454.1ZM416.8 454.4L417.2 452.2L418.4 452.4L416.8 449.8L414.4 451.7L415.6 451.9L415.2 454.1ZM421.8 454.4L422.2 452.2L423.4 452.4L421.8 449.8L419.4 451.7L420.6 451.9L420.2 454.1ZM426.8 454.4L427.2 452.2L428.4 452.4L426.8 449.8L424.4 451.7L425.6 451.9L425.2 454.1ZM431.8 454.4L432.2 452.2L433.4 452.4L431.8 449.8L429.4 451.7L430.6 451.9L430.2 454.1ZM436.8 454.4L437.2 452.2L438.4 452.4L436.8 449.8L434.4 451.7L435.6 451.9L435.2 454.1ZM441.8 454.4L442.2 452.2L443.4 452.4L441.8 449.8L439.4 451.7L440.6 451.9L440.2 454.1ZM446.8 454.4L447.2 452.2L448.4 452.4L446.8 449.8L444.4 451.7L445.6 451.9L445.2 454.1Z"/>
<path fill="#d6ef56" d="M451.8 409.6L452.2 407.3L453.4 407.5L451.8 404.9L449.4 406.8L450.6 407.0L450.2 409.3ZM451.8 414.6L452.2 412.3L453.4 412.5L451.8 409.9L449.4 411.8L450.6 412.0L450.2 414.3Z"/>
<path fill="#acea4f" d="M456.8 409.6L457.2 407.3L458.4 407.5L456.8 404.9L454.4 406.8L455.6 407.0L455.2 409.3Z"/>
<path fill="#73e54c" d="M461.8 409.6L462.2 407.3L463.4 407.5L461.8 404.9L459.4 406.8L460.6 407.0L460.2 409.3Z"/>
<path fill="#54e25e" d="M466.8 409.6L467.2 407.3L468.4 407.5L466.8 404.9L464.4 406.8L465.6 407.0L465.2 409.3Z"/>
<path fill="#3de08d" d="M469.8 409.1L471.8 407.9L472.4 408.9L473.4 406.0L470.4 405.4L471.0 406.4L469.0 407.6Z"/>
<path fill="#2dcec1" d="M474.8 407.4L476.8 406.2L477.4 407.2L478.4 404.3L475.4 403.8L476.0 404.8L474.0 405.9Z"/>
<path fill="#259add" d="M479.8 405.5L481.8 404.3L482.4 405.3L483.4 402.5L480.4 401.9L481.0 402.9L479.0 404.0Z"/>
<path fill="#1e48c0" d="M484.8 405.5L486.8 404.3L487.4 405.3L488.4 402.5L485.4 401.9L486.0 402.9L484.0 404.0Z"/>
<path fill="#521ab6" d="M492.2 405.9L492.2 403.6L493.4 403.6L491.4 401.3L489.4 403.6L490.5 403.6L490.5 405.9Z"/>
<path fill="#a71dcb" d="M497.2 405.9L497.2 403.6L498.4 403.6L496.4 401.3L494.4 403.6L495.5 403.6L495.5 405.9Z"/>
<path fill="#2154dc" d="M333.5 410.7L335.5 409.6L336.1 410.6L337.1 407.7L334.1 407.1L334.7 408.1L332.7 409.2Z"/>
<path fill="#2599dd" d="M339.1 410.7L341.1 409.6L341.7 410.6L342.6 407.7L339.7 407.1L340.2 408.1L338.2 409.2Z"/>
<path fill="#2ccac7" d="M349.8 412.5L351.8 411.3L352.4 412.3L353.4 409.4L350.4 408.8L351.0 409.8L349.0 411.0ZM474.8 427.7L476.8 426.6L477.4 427.6L478.4 424.7L475.4 424.1L476.0 425.1L474.0 426.3Z"/>
<path fill="#3bdf91" d="M354.8 414.1L356.8 412.9L357.4 413.9L358.4 411.0L355.4 410.4L356.0 411.4L354.0 412.6ZM469.8 419.0L471.8 417.9L472.4 418.9L473.4 416.0L470.4 415.4L471.0 416.4L469.0 417.6Z"/>
<path fill="#56e35d" d="M361.8 414.6L362.2 412.3L363.4 412.5L361.8 409.9L359.4 411.8L360.6 412.0L360.2 414.3Z"/>
<path fill="#76e54c" d="M366.8 414.6L367.2 412.3L368.4 412.5L366.8 409.9L364.4 411.8L365.6 412.0L365.2 414.3Z"/>
<path fill="#c7ed52" d="M376.8 414.6L377.2 412.3L378.4 412.5L376.8 409.9L374.4 411.8L375.6 412.0L375.2 414.3ZM381.8 449.5L382.2 447.2L383.4 447.4L381.8 444.8L379.4 446.7L380.6 446.9L380.2 449.2Z"/>
<path fill="#d7ef56" d="M381.8 414.6L382.2 412.3L383.4 412.5L381.8 409.9L379.4 411.8L380.6 412.0L380.2 414.3Z"/>
<path fill="#e6f15a" d="M386.8 414.6L387.2 412.3L388.4 412.5L386.8 409.9L384.4 411.8L385.6 412.0L385.2 414.3Z"/>
<path fill="#abea4f" d="M456.8 414.6L457.2 412.3L458.4 412.5L456.8 409.9L454.4 411.8L455.6 412.0L455.2 414.3Z"/>
<path fill="#71e44c" d="M461.8 414.6L462.2 412.3L463.4 412.5L461.8 409.9L459.4 411.8L460.6 412.0L460.2 414.3Z"/>
<path fill="#53e25f" d="M466.8 414.6L467.2 412.3L468.4 412.5L466.8 409.9L464.4 411.8L465.6 412.0L465.2 414.3ZM466.8 419.6L467.2 417.3L468.4 417.5L466.8 414.9L464.4 416.8L465.6 417.0L465.2 419.3ZM366.8 449.5L367.2 447.2L368.4 447.4L366.8 444.8L364.4 446.7L365.6 446.9L365.2 449.2Z"/>
<path fill="#3ce08f" d="M469.8 414.1L471.8 412.9L472.4 413.9L473.4 411.0L470.4 410.4L471.0 411.4L469.0 412.6Z"/>
<path fill="#2dcdc3" d="M474.8 412.5L476.8 411.3L477.4 412.3L478.4 409.4L475.4 408.8L476.0 409.8L474.0 411.0Z"/>
<path fill="#2598dd" d="M479.8 410.7L481.8 409.6L482.4 410.6L483.4 407.7L480.4 407.1L481.0 408.1L479.0 409.2Z"/>
<path fill="#1e45be" d="M484.8 410.7L486.8 409.6L487.4 410.6L488.4 407.7L485.4 407.1L486.0 408.1L484.0 409.2Z"/>
<path fill="#551ab8" d="M492.2 411.1L492.2 408.8L493.4 408.8L491.4 406.5L489.4 408.8L490.5 408.8L490.5 411.1Z"/>
<path fill="#a81dcb" d="M497.2 411.1L497.2 408.8L498.4 408.8L496.4 406.5L494.4 408.8L495.5 408.8L495.5 411.1Z"/>
<path fill="#4225d6" d="M330.4 416.3L330.4 414.0L331.6 414.0L329.6 411.7L327.6 414.0L328.7 414.0L328.7 416.3Z"/>
<path fill="#2150dc" d="M333.5 415.9L335.5 414.8L336.1 415.8L337.1 412.9L334.1 412.3L334.7 413.3L332.7 414.4Z"/>
<path fill="#2495de" d="M339.1 415.9L341.1 414.8L341.7 415.8L342.6 412.9L339.7 412.3L340.2 413.3L338.2 414.4Z"/>
<path fill="#2ac4cf" d="M349.8 417.6L351.8 416.4L352.4 417.4L353.4 414.5L350.4 413.9L351.0 414.9L349.0 416.1Z"/>
<path fill="#37df9c" d="M354.8 419.0L356.8 417.9L357.4 418.9L358.4 416.0L355.4 415.4L356.0 416.4L354.0 417.6Z"/>
<path fill="#52e260" d="M361.8 419.6L362.2 417.3L363.4 417.5L361.8 414.9L359.4 416.8L360.6 417.0L360.2 419.3ZM466.8 424.5L467.2 422.3L468.4 422.5L466.8 419.9L464.4 421.8L465.6 422.0L465.2 424.2Z"/>
<path fill="#6ee44c" d="M366.8 419.6L367.2 417.3L368.4 417.5L366.8 414.9L364.4 416.8L365.6 417.0L365.2 419.3ZM461.8 424.5L462.2 422.3L463.4 422.5L461.8 419.9L459.4 421.8L460.6 422.0L460.2 424.2Z"/>
<path fill="#a0e94e" d="M371.8 419.6L372.2 417.3L373.4 417.5L371.8 414.9L369.4 416.8L370.6 417.0L370.2 419.3Z"/>
<path fill="#c4ed52" d="M376.8 419.6L377.2 417.3L378.4 417.5L376.8 414.9L374.4 416.8L375.6 417.0L375.2 419.3Z"/>
<path fill="#d5ef56" d="M381.8 419.6L382.2 417.3L383.4 417.5L381.8 414.9L379.4 416.8L380.6 417.0L380.2 419.3ZM451.8 419.6L452.2 417.3L453.4 417.5L451.8 414.9L449.4 416.8L450.6 417.0L450.2 419.3ZM451.8 424.5L452.2 422.3L453.4 422.5L451.8 419.9L449.4 421.8L450.6 422.0L450.2 424.2Z"/>
<path fill="#e5f15a" d="M386.8 419.6L387.2 417.3L388.4 417.5L386.8 414.9L384.4 416.8L385.6 417.0L385.2 419.3Z"/>
<path fill="#a9ea4f" d="M456.8 419.6L457.2 417.3L458.4 417.5L456.8 414.9L454.4 416.8L455.6 417.0L455.2 419.3Z"/>
<path fill="#70e44c" d="M461.8 419.6L462.2 417.3L463.4 417.5L461.8 414.9L459.4 416.8L460.6 417.0L460.2 419.3ZM371.8 449.5L372.2 447.2L373.4 447.4L371.8 444.8L369.4 446.7L370.6 446.9L370.2 449.2Z"/>
<path fill="#2cccc4" d="M474.8 417.6L476.8 416.4L477.4 417.4L478.4 414.5L475.4 413.9L476.0 414.9L474.0 416.1Z"/>
<path fill="#2596de" d="M479.8 415.9L481.8 414.8L482.4 415.8L483.4 412.9L480.4 412.3L481.0 413.3L479.0 414.4Z"/>
<path fill="#1d42bc" d="M484.8 415.9L486.8 414.8L487.4 415.8L488.4 412.9L485.4 412.3L486.0 413.3L484.0 414.4Z"/>
<path fill="#591ab9" d="M492.2 416.3L492.2 414.0L493.4 414.0L491.4 411.7L489.4 414.0L490.5 414.0L490.5 416.3Z"/>
<path fill="#aa1dcb" d="M497.2 416.3L497.2 414.0L498.4 414.0L496.4 411.7L494.4 414.0L495.5 414.0L495.5 416.3Z"/>
<path fill="#4325d6" d="M330.4 421.5L330.4 419.2L331.6 419.2L329.6 416.9L327.6 419.2L328.7 419.2L328.7 421.5ZM330.4 426.8L330.4 424.4L331.6 424.4L329.6 422.1L327.6 424.4L328.7 424.4L328.7 426.8Z"/>
<path fill="#214ddb" d="M333.5 421.1L335.5 420.0L336.1 421.0L337.1 418.1L334.1 417.5L334.7 418.5L332.7 419.7Z"/>
<path fill="#2491de" d="M339.1 421.1L341.1 420.0L341.7 421.0L342.6 418.1L339.7 417.5L340.2 418.5L338.2 419.7Z"/>
<path fill="#28bfd6" d="M349.8 422.6L351.8 421.5L352.4 422.5L353.4 419.6L350.4 419.0L351.0 420.0L349.0 421.2Z"/>
<path fill="#33dea7" d="M354.8 424.0L356.8 422.9L357.4 423.9L358.4 421.0L355.4 420.4L356.0 421.4L354.0 422.5Z"/>
<path fill="#4de263" d="M361.8 424.5L362.2 422.3L363.4 422.5L361.8 419.9L359.4 421.8L360.6 422.0L360.2 424.2ZM466.8 449.5L467.2 447.2L468.4 447.4L466.8 444.8L464.4 446.7L465.6 446.9L465.2 449.2Z"/>
<path fill="#69e44f" d="M366.8 424.5L367.2 422.3L368.4 422.5L366.8 419.9L364.4 421.8L365.6 422.0L365.2 424.2Z"/>
<path fill="#98e84e" d="M371.8 424.5L372.2 422.3L373.4 422.5L371.8 419.9L369.4 421.8L370.6 422.0L370.2 424.2Z"/>
<path fill="#c2ec51" d="M376.8 424.5L377.2 422.3L378.4 422.5L376.8 419.9L374.4 421.8L375.6 422.0L375.2 424.2Z"/>
<path fill="#d3ef55" d="M381.8 424.5L382.2 422.3L383.4 422.5L381.8 419.9L379.4 421.8L380.6 422.0L380.2 424.2ZM451.8 434.5L452.2 432.2L453.4 432.4L451.8 429.8L449.4 431.7L450.6 431.9L450.2 434.2ZM451.8 439.5L452.2 437.2L453.4 437.4L451.8 434.8L449.4 436.7L450.6 436.9L450.2 439.2Z"/>
<path fill="#e3f159" d="M386.8 424.5L387.2 422.3L388.4 422.5L386.8 419.9L384.4 421.8L385.6 422.0L385.2 424.2Z"/>
<path fill="#a7ea4f" d="M456.8 424.5L457.2 422.3L458.4 422.5L456.8 419.9L454.4 421.8L455.6 422.0L455.2 424.2Z"/>
<path fill="#3bdf93" d="M469.8 424.0L471.8 422.9L472.4 423.9L473.4 421.0L470.4 420.4L471.0 421.4L469.0 422.5Z"/>
<path fill="#2ccbc6" d="M474.8 422.6L476.8 421.5L477.4 422.5L478.4 419.6L475.4 419.0L476.0 420.0L474.0 421.2ZM354.8 443.9L356.8 442.8L357.4 443.8L358.4 440.9L355.4 440.3L356.0 441.3L354.0 442.5Z"/>
<path fill="#2494de" d="M479.8 421.1L481.8 420.0L482.4 421.0L483.4 418.1L480.4 417.5L481.0 418.5L479.0 419.7Z"/>
<path fill="#1d40ba" d="M484.8 421.1L486.8 420.0L487.4 421.0L488.4 418.1L485.4 417.5L486.0 418.5L484.0 419.7Z"/>
<path fill="#5c1aba" d="M492.2 421.5L492.2 419.2L493.4 419.2L491.4 416.9L489.4 419.2L490.5 419.2L490.5 421.5Z"/>
<path fill="#ac1ecb" d="M497.2 421.5L497.2 419.2L498.4 419.2L496.4 416.9L494.4 419.2L495.5 419.2L495.5 421.5Z"/>
<path fill="#214adb" d="M333.5 426.3L335.5 425.2L336.1 426.2L337.1 423.3L334.1 422.7L334.7 423.7L332.7 424.9Z"/>
<path fill="#248ddf" d="M339.1 426.3L341.1 425.2L341.7 426.2L342.6 423.3L339.7 422.7L340.2 423.7L338.2 424.9Z"/>
<path fill="#31dab0" d="M354.8 429.0L356.8 427.8L357.4 428.8L358.4 426.0L355.4 425.4L356.0 426.4L354.0 427.5Z"/>
<path fill="#49e26c" d="M361.8 429.5L362.2 427.3L363.4 427.5L361.8 424.8L359.4 426.8L360.6 427.0L360.2 429.2Z"/>
<path fill="#65e352" d="M366.8 429.5L367.2 427.3L368.4 427.5L366.8 424.8L364.4 426.8L365.6 427.0L365.2 429.2Z"/>
<path fill="#90e74e" d="M371.8 429.5L372.2 427.3L373.4 427.5L371.8 424.8L369.4 426.8L370.6 427.0L370.2 429.2Z"/>
<path fill="#bfec50" d="M376.8 429.5L377.2 427.3L378.4 427.5L376.8 424.8L374.4 426.8L375.6 427.0L375.2 429.2Z"/>
<path fill="#e2f059" d="M386.8 429.5L387.2 427.3L388.4 427.5L386.8 424.8L384.4 426.8L385.6 427.0L385.2 429.2Z"/>
<path fill="#d4ef55" d="M451.8 429.5L452.2 427.3L453.4 427.5L451.8 424.8L449.4 426.8L450.6 427.0L450.2 429.2Z"/>
<path fill="#a5ea4f" d="M456.8 429.5L457.2 427.3L458.4 427.5L456.8 424.8L454.4 426.8L455.6 427.0L455.2 429.2Z"/>
<path fill="#6de44d" d="M461.8 429.5L462.2 427.3L463.4 427.5L461.8 424.8L459.4 426.8L460.6 427.0L460.2 429.2Z"/>
<path fill="#51e261" d="M466.8 429.5L467.2 427.3L468.4 427.5L466.8 424.8L464.4 426.8L465.6 427.0L465.2 429.2Z"/>
<path fill="#3adf94" d="M469.8 429.0L471.8 427.8L472.4 428.8L473.4 426.0L470.4 425.4L471.0 426.4L469.0 427.5Z"/>
<path fill="#2492de" d="M479.8 426.3L481.8 425.2L482.4 426.2L483.4 423.3L480.4 422.7L481.0 423.7L479.0 424.9Z"/>
<path fill="#1d3db8" d="M484.8 426.3L486.8 425.2L487.4 426.2L488.4 423.3L485.4 422.7L486.0 423.7L484.0 424.9Z"/>
<path fill="#5f1abc" d="M492.2 426.8L492.2 424.4L493.4 424.4L491.4 422.1L489.4 424.4L490.5 424.4L490.5 426.8Z"/>
<path fill="#ae1ecb" d="M497.2 426.8L497.2 424.4L498.4 424.4L496.4 422.1L494.4 424.4L495.5 424.4L495.5 426.8Z"/>
<path fill="#4425d6" d="M330.4 432.0L330.4 429.7L331.6 429.7L329.6 427.4L327.6 429.7L328.7 429.7L328.7 432.0ZM330.4 437.2L330.4 434.9L331.6 434.9L329.6 432.6L327.6 434.9L328.7 434.9L328.7 437.2Z"/>
<path fill="#2147da" d="M333.5 431.5L335.5 430.4L336.1 431.4L337.1 428.5L334.1 427.9L334.7 428.9L332.7 430.1Z"/>
<path fill="#2389e0" d="M339.1 431.5L341.1 430.4L341.7 431.4L342.6 428.5L339.7 427.9L340.2 428.9L338.2 430.1Z"/>
<path fill="#2fd5b7" d="M354.8 434.0L356.8 432.8L357.4 433.8L358.4 430.9L355.4 430.4L356.0 431.4L354.0 432.5Z"/>
<path fill="#45e178" d="M361.8 434.5L362.2 432.2L363.4 432.4L361.8 429.8L359.4 431.7L360.6 431.9L360.2 434.2Z"/>
<path fill="#60e356" d="M366.8 434.5L367.2 432.2L368.4 432.4L366.8 429.8L364.4 431.7L365.6 431.9L365.2 434.2Z"/>
<path fill="#88e74d" d="M371.8 434.5L372.2 432.2L373.4 432.4L371.8 429.8L369.4 431.7L370.6 431.9L370.2 434.2Z"/>
<path fill="#baec50" d="M376.8 434.5L377.2 432.2L378.4 432.4L376.8 429.8L374.4 431.7L375.6 431.9L375.2 434.2Z"/>
<path fill="#ceee54" d="M381.8 434.5L382.2 432.2L383.4 432.4L381.8 429.8L379.4 431.7L380.6 431.9L380.2 434.2Z"/>
<path fill="#e0f058" d="M386.8 434.5L387.2 432.2L388.4 432.4L386.8 429.8L384.4 431.7L385.6 431.9L385.2 434.2Z"/>
<path fill="#a4e94f" d="M456.8 434.5L457.2 432.2L458.4 432.4L456.8 429.8L454.4 431.7L455.6 431.9L455.2 434.2Z"/>
<path fill="#6ce44d" d="M461.8 434.5L462.2 432.2L463.4 432.4L461.8 429.8L459.4 431.7L460.6 431.9L460.2 434.2Z"/>
<path fill="#50e261" d="M466.8 434.5L467.2 432.2L468.4 432.4L466.8 429.8L464.4 431.7L465.6 431.9L465.2 434.2Z"/>
<path fill="#39df96" d="M469.8 434.0L471.8 432.8L472.4 433.8L473.4 430.9L470.4 430.4L471.0 431.4L469.0 432.5Z"/>
<path fill="#2bc9c8" d="M474.8 432.8L476.8 431.7L477.4 432.7L478.4 429.8L475.4 429.2L476.0 430.2L474.0 431.4Z"/>
<path fill="#2490df" d="M479.8 431.5L481.8 430.4L482.4 431.4L483.4 428.5L480.4 427.9L481.0 428.9L479.0 430.1Z"/>
<path fill="#1d3ab6" d="M484.8 431.5L486.8 430.4L487.4 431.4L488.4 428.5L485.4 427.9L486.0 428.9L484.0 430.1Z"/>
<path fill="#631abd" d="M492.2 432.0L492.2 429.7L493.4 429.7L491.4 427.4L489.4 429.7L490.5 429.7L490.5 432.0Z"/>
<path fill="#b01ecb" d="M497.2 432.0L497.2 429.7L498.4 429.7L496.4 427.4L494.4 429.7L495.5 429.7L495.5 432.0Z"/>
<path fill="#2145da" d="M333.5 436.8L335.5 435.6L336.1 436.6L337.1 433.7L334.1 433.1L334.7 434.1L332.7 435.3Z"/>
<path fill="#2386e0" d="M339.1 436.8L341.1 435.6L341.7 436.6L342.6 433.7L339.7 433.1L340.2 434.1L338.2 435.3Z"/>
<path fill="#2ed0be" d="M354.8 439.0L356.8 437.8L357.4 438.8L358.4 435.9L355.4 435.3L356.0 436.3L354.0 437.5Z"/>
<path fill="#41e083" d="M359.8 439.0L361.8 437.8L362.4 438.8L363.4 435.9L360.4 435.3L361.0 436.3L359.0 437.5Z"/>
<path fill="#5ce359" d="M366.8 439.5L367.2 437.2L368.4 437.4L366.8 434.8L364.4 436.7L365.6 436.9L365.2 439.2Z"/>
<path fill="#80e64d" d="M371.8 439.5L372.2 437.2L373.4 437.4L371.8 434.8L369.4 436.7L370.6 436.9L370.2 439.2Z"/>
<path fill="#b2eb4f" d="M376.8 439.5L377.2 437.2L378.4 437.4L376.8 434.8L374.4 436.7L375.6 436.9L375.2 439.2Z"/>
<path fill="#ccee53" d="M381.8 439.5L382.2 437.2L383.4 437.4L381.8 434.8L379.4 436.7L380.6 436.9L380.2 439.2Z"/>
<path fill="#def058" d="M386.8 439.5L387.2 437.2L388.4 437.4L386.8 434.8L384.4 436.7L385.6 436.9L385.2 439.2Z"/>
<path fill="#a2e94f" d="M456.8 439.5L457.2 437.2L458.4 437.4L456.8 434.8L454.4 436.7L455.6 436.9L455.2 439.2ZM376.8 449.5L377.2 447.2L378.4 447.4L376.8 444.8L374.4 446.7L375.6 446.9L375.2 449.2Z"/>
<path fill="#6be44e" d="M461.8 439.5L462.2 437.2L463.4 437.4L461.8 434.8L459.4 436.7L460.6 436.9L460.2 439.2ZM461.8 444.5L462.2 442.2L463.4 442.4L461.8 439.8L459.4 441.7L460.6 441.9L460.2 444.2ZM371.8 454.4L372.2 452.2L373.4 452.4L371.8 449.8L369.4 451.7L370.6 451.9L370.2 454.1Z"/>
<path fill="#4fe262" d="M466.8 439.5L467.2 437.2L468.4 437.4L466.8 434.8L464.4 436.7L465.6 436.9L465.2 439.2Z"/>
<path fill="#39df98" d="M469.8 439.0L471.8 437.8L472.4 438.8L473.4 435.9L470.4 435.3L471.0 436.3L469.0 437.5Z"/>
<path fill="#2bc8ca" d="M474.8 437.9L476.8 436.8L477.4 437.8L478.4 434.9L475.4 434.3L476.0 435.3L474.0 436.4Z"/>
<path fill="#248edf" d="M479.8 436.8L481.8 435.6L482.4 436.6L483.4 433.7L480.4 433.1L481.0 434.1L479.0 435.3Z"/>
<path fill="#1c37b4" d="M484.8 436.8L486.8 435.6L487.4 436.6L488.4 433.7L485.4 433.1L486.0 434.1L484.0 435.3Z"/>
<path fill="#661abe" d="M492.2 437.2L492.2 434.9L493.4 434.9L491.4 432.6L489.4 434.9L490.5 434.9L490.5 437.2Z"/>
<path fill="#b11ecb" d="M497.2 437.2L497.2 434.9L498.4 434.9L496.4 432.6L494.4 434.9L495.5 434.9L495.5 437.2Z"/>
<path fill="#4525d6" d="M330.4 442.4L330.4 440.1L331.6 440.1L329.6 437.8L327.6 440.1L328.7 440.1L328.7 442.4ZM330.4 447.6L330.4 445.3L331.6 445.3L329.6 443.0L327.6 445.3L328.7 445.3L328.7 447.6Z"/>
<path fill="#2142d9" d="M333.5 442.0L335.5 440.8L336.1 441.8L337.1 438.9L334.1 438.3L334.7 439.3L332.7 440.5Z"/>
<path fill="#2382e1" d="M339.1 442.0L341.1 440.8L341.7 441.8L342.6 438.9L339.7 438.3L340.2 439.3L338.2 440.5Z"/>
<path fill="#28bad9" d="M344.8 443.0L346.8 441.9L347.4 442.9L348.4 440.0L345.4 439.4L346.0 440.4L344.0 441.5Z"/>
<path fill="#3ce08e" d="M359.8 443.9L361.8 442.8L362.4 443.8L363.4 440.9L360.4 440.3L361.0 441.3L359.0 442.5Z"/>
<path fill="#57e35c" d="M366.8 444.5L367.2 442.2L368.4 442.4L366.8 439.8L364.4 441.7L365.6 441.9L365.2 444.2Z"/>
<path fill="#78e54c" d="M371.8 444.5L372.2 442.2L373.4 442.4L371.8 439.8L369.4 441.7L370.6 441.9L370.2 444.2Z"/>
<path fill="#aaea4f" d="M376.8 444.5L377.2 442.2L378.4 442.4L376.8 439.8L374.4 441.7L375.6 441.9L375.2 444.2Z"/>
<path fill="#dcf058" d="M386.8 444.5L387.2 442.2L388.4 442.4L386.8 439.8L384.4 441.7L385.6 441.9L385.2 444.2Z"/>
<path fill="#d2ee55" d="M451.8 444.5L452.2 442.2L453.4 442.4L451.8 439.8L449.4 441.7L450.6 441.9L450.2 444.2Z"/>
<path fill="#a0e94f" d="M456.8 444.5L457.2 442.2L458.4 442.4L456.8 439.8L454.4 441.7L455.6 441.9L455.2 444.2Z"/>
<path fill="#4ee262" d="M466.8 444.5L467.2 442.2L468.4 442.4L466.8 439.8L464.4 441.7L465.6 441.9L465.2 444.2ZM366.8 454.4L367.2 452.2L368.4 452.4L366.8 449.8L364.4 451.7L365.6 451.9L365.2 454.1Z"/>
<path fill="#38df9a" d="M469.8 443.9L471.8 442.8L472.4 443.8L473.4 440.9L470.4 440.3L471.0 441.3L469.0 442.5Z"/>
<path fill="#2bc7cb" d="M474.8 443.0L476.8 441.9L477.4 442.9L478.4 440.0L475.4 439.4L476.0 440.4L474.0 441.5Z"/>
<path fill="#248cdf" d="M479.8 442.0L481.8 440.8L482.4 441.8L483.4 438.9L480.4 438.3L481.0 439.3L479.0 440.5Z"/>
<path fill="#1c34b2" d="M484.8 442.0L486.8 440.8L487.4 441.8L488.4 438.9L485.4 438.3L486.0 439.3L484.0 440.5Z"/>
<path fill="#691ac0" d="M492.2 442.4L492.2 440.1L493.4 440.1L491.4 437.8L489.4 440.1L490.5 440.1L490.5 442.4Z"/>
<path fill="#b31ecb" d="M497.2 442.4L497.2 440.1L498.4 440.1L496.4 437.8L494.4 440.1L495.5 440.1L495.5 442.4Z"/>
<path fill="#bf1b90" d="M302.7 447.6L302.7 445.3L303.8 445.3L301.8 443.0L299.8 445.3L300.9 445.3L300.9 447.6ZM308.2 447.6L308.2 445.3L309.4 445.3L307.4 443.0L305.4 445.3L306.5 445.3L306.5 447.6ZM313.8 447.6L313.8 445.3L314.9 445.3L312.9 443.0L310.9 445.3L312.1 445.3L312.1 447.6Z"/>
<path fill="#bc1a90" d="M319.3 447.6L319.3 445.3L320.4 445.3L318.4 443.0L316.4 445.3L317.6 445.3L317.6 447.6Z"/>
<path fill="#2140d9" d="M333.5 447.2L335.5 446.0L336.1 447.0L337.1 444.1L334.1 443.6L334.7 444.6L332.7 445.7Z"/>
<path fill="#237fe1" d="M339.1 447.2L341.1 446.0L341.7 447.0L342.6 444.1L339.7 443.6L340.2 444.6L338.2 445.7Z"/>
<path fill="#27b5d9" d="M344.8 448.1L346.8 446.9L347.4 447.9L348.4 445.1L345.4 444.5L346.0 445.5L344.0 446.6Z"/>
<path fill="#2ac6cd" d="M354.8 448.9L356.8 447.8L357.4 448.8L358.4 445.9L355.4 445.3L356.0 446.3L354.0 447.5Z"/>
<path fill="#38df99" d="M359.8 448.9L361.8 447.8L362.4 448.8L363.4 445.9L360.4 445.3L361.0 446.3L359.0 447.5Z"/>
<path fill="#daef57" d="M386.8 449.5L387.2 447.2L388.4 447.4L386.8 444.8L384.4 446.7L385.6 446.9L385.2 449.2Z"/>
<path fill="#edf25c" d="M391.8 449.5L392.2 447.2L393.4 447.4L391.8 444.8L389.4 446.7L390.6 446.9L390.2 449.2Z"/>
<path fill="#9fe94e" d="M456.8 449.5L457.2 447.2L458.4 447.4L456.8 444.8L454.4 446.7L455.6 446.9L455.2 449.2Z"/>
<path fill="#6ae44f" d="M461.8 449.5L462.2 447.2L463.4 447.4L461.8 444.8L459.4 446.7L460.6 446.9L460.2 449.2Z"/>
<path fill="#37df9b" d="M469.8 448.9L471.8 447.8L472.4 448.8L473.4 445.9L470.4 445.3L471.0 446.3L469.0 447.5Z"/>
<path fill="#2ac6cc" d="M474.8 448.1L476.8 446.9L477.4 447.9L478.4 445.1L475.4 444.5L476.0 445.5L474.0 446.6Z"/>
<path fill="#248ae0" d="M479.8 447.2L481.8 446.0L482.4 447.0L483.4 444.1L480.4 443.6L481.0 444.6L479.0 445.7Z"/>
<path fill="#1c32b0" d="M484.8 447.2L486.8 446.0L487.4 447.0L488.4 444.1L485.4 443.6L486.0 444.6L484.0 445.7Z"/>
<path fill="#6c1ac1" d="M492.2 447.6L492.2 445.3L493.4 445.3L491.4 443.0L489.4 445.3L490.5 445.3L490.5 447.6Z"/>
<path fill="#b51eca" d="M497.2 447.6L497.2 445.3L498.4 445.3L496.4 443.0L494.4 445.3L495.5 445.3L495.5 447.6Z"/>
<path fill="#bb1768" d="M302.7 452.8L302.7 450.5L303.8 450.5L301.8 448.2L299.8 450.5L300.9 450.5L300.9 452.8ZM308.2 452.8L308.2 450.5L309.4 450.5L307.4 448.2L305.4 450.5L306.5 450.5L306.5 452.8ZM313.8 452.8L313.8 450.5L314.9 450.5L312.9 448.2L310.9 450.5L312.1 450.5L312.1 452.8Z"/>
<path fill="#ba1769" d="M319.3 452.8L319.3 450.5L320.4 450.5L318.4 448.2L316.4 450.5L317.6 450.5L317.6 452.8Z"/>
<path fill="#4625d6" d="M330.4 452.8L330.4 450.5L331.6 450.5L329.6 448.2L327.6 450.5L328.7 450.5L328.7 452.8Z"/>
<path fill="#203dd9" d="M333.5 452.4L335.5 451.2L336.1 452.2L337.1 449.4L334.1 448.8L334.7 449.8L332.7 450.9Z"/>
<path fill="#227ce1" d="M339.1 452.4L341.1 451.2L341.7 452.2L342.6 449.4L339.7 448.8L340.2 449.8L338.2 450.9Z"/>
<path fill="#27b1da" d="M344.8 453.2L346.8 452.0L347.4 453.0L348.4 450.2L345.4 449.6L346.0 450.6L344.0 451.7Z"/>
<path fill="#29c1d4" d="M354.8 453.9L356.8 452.8L357.4 453.8L358.4 450.9L355.4 450.3L356.0 451.3L354.0 452.4Z"/>
<path fill="#34dea4" d="M359.8 453.9L361.8 452.8L362.4 453.8L363.4 450.9L360.4 450.3L361.0 451.3L359.0 452.4Z"/>
<path fill="#9ae84e" d="M376.8 454.4L377.2 452.2L378.4 452.4L376.8 449.8L374.4 451.7L375.6 451.9L375.2 454.1Z"/>
<path fill="#c4ed51" d="M381.8 454.4L382.2 452.2L383.4 452.4L381.8 449.8L379.4 451.7L380.6 451.9L380.2 454.1Z"/>
<path fill="#d8ef56" d="M386.8 454.4L387.2 452.2L388.4 452.4L386.8 449.8L384.4 451.7L385.6 451.9L385.2 454.1Z"/>
<path fill="#ecf25b" d="M391.8 454.4L392.2 452.2L393.4 452.4L391.8 449.8L389.4 451.7L390.6 451.9L390.2 454.1Z"/>
<path fill="#d0ee55" d="M451.8 454.4L452.2 452.2L453.4 452.4L451.8 449.8L449.4 451.7L450.6 451.9L450.2 454.1Z"/>
<path fill="#9de94e" d="M456.8 454.4L457.2 452.2L458.4 452.4L456.8 449.8L454.4 451.7L455.6 451.9L455.2 454.1Z"/>
<path fill="#69e450" d="M461.8 454.4L462.2 452.2L463.4 452.4L461.8 449.8L459.4 451.7L460.6 451.9L460.2 454.1Z"/>
<path fill="#4de264" d="M466.8 454.4L467.2 452.2L468.4 452.4L466.8 449.8L464.4 451.7L465.6 451.9L465.2 454.1Z"/>
<path fill="#37df9d" d="M469.8 453.9L471.8 452.8L472.4 453.8L473.4 450.9L470.4 450.3L471.0 451.3L469.0 452.4Z"/>
<path fill="#2ac5ce" d="M474.8 453.2L476.8 452.0L477.4 453.0L478.4 450.2L475.4 449.6L476.0 450.6L474.0 451.7Z"/>
<path fill="#2387e0" d="M479.8 452.4L481.8 451.2L482.4 452.2L483.4 449.4L480.4 448.8L481.0 449.8L479.0 450.9Z"/>
<path fill="#1c2faf" d="M484.8 452.4L486.8 451.2L487.4 452.2L488.4 449.4L485.4 448.8L486.0 449.8L484.0 450.9Z"/>
<path fill="#701ac2" d="M492.2 452.8L492.2 450.5L493.4 450.5L491.4 448.2L489.4 450.5L490.5 450.5L490.5 452.8Z"/>
<path fill="#b71fca" d="M497.2 452.8L497.2 450.5L498.4 450.5L496.4 448.2L494.4 450.5L495.5 450.5L495.5 452.8Z"/></g>
</svg>
</body></html>
